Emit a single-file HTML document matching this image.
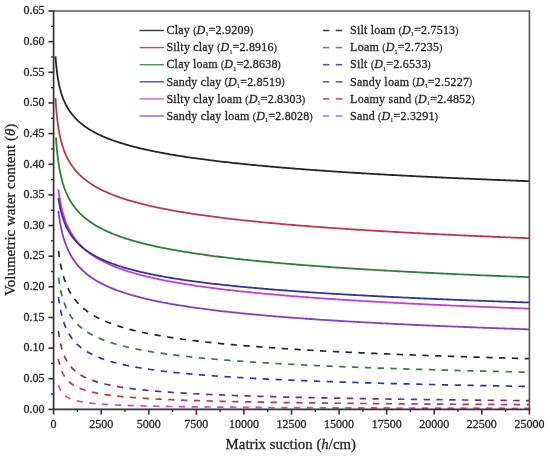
<!DOCTYPE html><html><head><meta charset="utf-8"><title>Soil water retention curves</title><style>html,body{margin:0;padding:0;background:#fff;width:550px;height:456px;overflow:hidden;}svg{display:block;}text{font-family:"Liberation Serif",serif;fill:#262626;stroke:#262626;stroke-width:0.28px;}</style></head><body>
<svg width="550" height="456" viewBox="0 0 550 456">
<g fill="none" stroke-linejoin="round">
<path d="M55.50,56.24 L55.55,56.98 L55.61,57.73 L55.66,58.48 L55.72,59.22 L55.78,59.96 L55.84,60.70 L55.90,61.44 L55.96,62.18 L56.02,62.92 L56.09,63.65 L56.16,64.38 L56.23,65.11 L56.30,65.84 L56.37,66.57 L56.45,67.30 L56.52,68.02 L56.60,68.75 L56.68,69.47 L56.77,70.19 L56.85,70.91 L56.94,71.63 L57.03,72.34 L57.13,73.06 L57.22,73.77 L57.32,74.48 L57.42,75.19 L57.53,75.90 L57.63,76.61 L57.74,77.31 L57.86,78.02 L57.97,78.72 L58.09,79.42 L58.21,80.12 L58.34,80.82 L58.47,81.51 L58.60,82.21 L58.73,82.90 L58.87,83.59 L59.02,84.28 L59.16,84.97 L59.32,85.66 L59.47,86.35 L59.63,87.03 L59.80,87.71 L59.96,88.40 L60.14,89.08 L60.31,89.76 L60.50,90.43 L60.68,91.11 L60.88,91.78 L61.07,92.46 L61.28,93.13 L61.49,93.80 L61.70,94.47 L61.92,95.14 L62.15,95.80 L62.38,96.47 L62.62,97.13 L62.86,97.79 L63.12,98.45 L63.37,99.11 L63.64,99.77 L63.91,100.43 L64.19,101.08 L64.48,101.73 L64.78,102.39 L65.08,103.04 L65.39,103.69 L65.71,104.33 L66.04,104.98 L66.38,105.63 L66.73,106.27 L67.09,106.91 L67.45,107.55 L67.83,108.19 L68.22,108.83 L68.61,109.47 L69.02,110.10 L69.44,110.74 L69.87,111.37 L70.31,112.00 L70.77,112.63 L71.24,113.26 L71.72,113.89 L72.21,114.52 L72.71,115.14 L73.23,115.77 L73.77,116.39 L74.32,117.01 L74.88,117.63 L75.46,118.25 L76.05,118.86 L76.66,119.48 L77.29,120.09 L77.93,120.71 L78.59,121.32 L79.27,121.93 L79.97,122.54 L80.69,123.15 L81.42,123.75 L82.18,124.36 L82.96,124.96 L83.76,125.57 L84.58,126.17 L85.42,126.77 L86.28,127.37 L87.17,127.96 L88.09,128.56 L89.02,129.16 L89.99,129.75 L90.97,130.34 L91.99,130.93 L93.03,131.53 L94.11,132.11 L95.21,132.70 L96.34,133.29 L97.50,133.87 L98.69,134.46 L99.92,135.04 L101.18,135.62 L103.08,136.47 L104.99,137.28 L106.89,138.06 L108.79,138.82 L110.70,139.54 L112.60,140.24 L114.50,140.92 L116.41,141.57 L118.31,142.20 L120.21,142.81 L122.12,143.41 L124.02,143.98 L125.92,144.54 L127.82,145.08 L129.73,145.61 L131.63,146.13 L133.53,146.63 L135.44,147.12 L137.34,147.59 L139.24,148.06 L141.15,148.51 L143.05,148.96 L144.95,149.39 L146.86,149.81 L148.76,150.23 L150.66,150.63 L152.57,151.03 L154.47,151.42 L156.37,151.80 L158.28,152.17 L160.18,152.54 L162.08,152.90 L163.99,153.25 L165.89,153.60 L167.79,153.94 L169.70,154.27 L171.60,154.60 L173.50,154.92 L175.40,155.24 L177.31,155.55 L179.21,155.86 L181.11,156.16 L183.02,156.46 L184.92,156.75 L186.82,157.04 L188.73,157.32 L190.63,157.60 L192.53,157.87 L194.44,158.14 L196.34,158.41 L198.24,158.67 L200.15,158.93 L202.05,159.19 L203.95,159.44 L205.86,159.69 L207.76,159.93 L209.66,160.17 L211.57,160.41 L213.47,160.65 L215.37,160.88 L217.28,161.11 L219.18,161.34 L221.08,161.56 L222.98,161.78 L224.89,162.00 L226.79,162.22 L228.69,162.43 L230.60,162.64 L232.50,162.85 L234.40,163.06 L236.31,163.26 L238.21,163.46 L240.11,163.66 L242.02,163.86 L243.92,164.06 L245.82,164.25 L247.73,164.44 L249.63,164.63 L251.53,164.82 L253.44,165.00 L255.34,165.18 L257.24,165.37 L259.15,165.54 L261.05,165.72 L262.95,165.90 L264.86,166.07 L266.76,166.25 L268.66,166.42 L270.56,166.59 L272.47,166.75 L274.37,166.92 L276.27,167.08 L278.18,167.25 L280.08,167.41 L281.98,167.57 L283.89,167.73 L285.79,167.88 L287.69,168.04 L289.60,168.19 L291.50,168.35 L293.40,168.50 L295.31,168.65 L297.21,168.80 L299.11,168.95 L301.02,169.09 L302.92,169.24 L304.82,169.38 L306.73,169.53 L308.63,169.67 L310.53,169.81 L312.44,169.95 L314.34,170.09 L316.24,170.23 L318.14,170.36 L320.05,170.50 L321.95,170.63 L323.85,170.77 L325.76,170.90 L327.66,171.03 L329.56,171.16 L331.47,171.29 L333.37,171.42 L335.27,171.55 L337.18,171.67 L339.08,171.80 L340.98,171.92 L342.89,172.05 L344.79,172.17 L346.69,172.29 L348.60,172.42 L350.50,172.54 L352.40,172.66 L354.31,172.77 L356.21,172.89 L358.11,173.01 L360.02,173.13 L361.92,173.24 L363.82,173.36 L365.72,173.47 L367.63,173.58 L369.53,173.70 L371.43,173.81 L373.34,173.92 L375.24,174.03 L377.14,174.14 L379.05,174.25 L380.95,174.36 L382.85,174.47 L384.76,174.57 L386.66,174.68 L388.56,174.78 L390.47,174.89 L392.37,174.99 L394.27,175.10 L396.18,175.20 L398.08,175.30 L399.98,175.41 L401.89,175.51 L403.79,175.61 L405.69,175.71 L407.60,175.81 L409.50,175.91 L411.40,176.01 L413.30,176.10 L415.21,176.20 L417.11,176.30 L419.01,176.39 L420.92,176.49 L422.82,176.59 L424.72,176.68 L426.63,176.77 L428.53,176.87 L430.43,176.96 L432.34,177.05 L434.24,177.15 L436.14,177.24 L438.05,177.33 L439.95,177.42 L441.85,177.51 L443.76,177.60 L445.66,177.69 L447.56,177.78 L449.47,177.86 L451.37,177.95 L453.27,178.04 L455.18,178.13 L457.08,178.21 L458.98,178.30 L460.88,178.38 L462.79,178.47 L464.69,178.55 L466.59,178.64 L468.50,178.72 L470.40,178.81 L472.30,178.89 L474.21,178.97 L476.11,179.05 L478.01,179.14 L479.92,179.22 L481.82,179.30 L483.72,179.38 L485.63,179.46 L487.53,179.54 L489.43,179.62 L491.34,179.70 L493.24,179.78 L495.14,179.86 L497.05,179.93 L498.95,180.01 L500.85,180.09 L502.76,180.17 L504.66,180.24 L506.56,180.32 L508.46,180.40 L510.37,180.47 L512.27,180.55 L514.17,180.62 L516.08,180.70 L517.98,180.77 L519.88,180.84 L521.79,180.92 L523.69,180.99 L525.59,181.06 L527.50,181.14 L529.40,181.21" stroke="#262626" stroke-width="1.8"/>
<path d="M55.50,97.93 L55.55,98.84 L55.61,99.74 L55.66,100.64 L55.72,101.53 L55.78,102.43 L55.84,103.32 L55.90,104.21 L55.96,105.09 L56.02,105.98 L56.09,106.86 L56.16,107.74 L56.23,108.61 L56.30,109.49 L56.37,110.36 L56.45,111.22 L56.52,112.09 L56.60,112.95 L56.68,113.81 L56.77,114.67 L56.85,115.53 L56.94,116.38 L57.03,117.23 L57.13,118.08 L57.22,118.93 L57.32,119.77 L57.42,120.61 L57.53,121.45 L57.63,122.29 L57.74,123.12 L57.86,123.95 L57.97,124.78 L58.09,125.61 L58.21,126.43 L58.34,127.25 L58.47,128.07 L58.60,128.89 L58.73,129.70 L58.87,130.51 L59.02,131.32 L59.16,132.13 L59.32,132.94 L59.47,133.74 L59.63,134.54 L59.80,135.34 L59.96,136.13 L60.14,136.93 L60.31,137.72 L60.50,138.51 L60.68,139.29 L60.88,140.08 L61.07,140.86 L61.28,141.64 L61.49,142.42 L61.70,143.19 L61.92,143.96 L62.15,144.74 L62.38,145.50 L62.62,146.27 L62.86,147.03 L63.12,147.80 L63.37,148.56 L63.64,149.31 L63.91,150.07 L64.19,150.82 L64.48,151.57 L64.78,152.32 L65.08,153.07 L65.39,153.81 L65.71,154.55 L66.04,155.29 L66.38,156.03 L66.73,156.77 L67.09,157.50 L67.45,158.23 L67.83,158.96 L68.22,159.69 L68.61,160.41 L69.02,161.14 L69.44,161.86 L69.87,162.58 L70.31,163.29 L70.77,164.01 L71.24,164.72 L71.72,165.43 L72.21,166.14 L72.71,166.84 L73.23,167.55 L73.77,168.25 L74.32,168.95 L74.88,169.65 L75.46,170.34 L76.05,171.04 L76.66,171.73 L77.29,172.42 L77.93,173.11 L78.59,173.80 L79.27,174.48 L79.97,175.16 L80.69,175.84 L81.42,176.52 L82.18,177.20 L82.96,177.87 L83.76,178.54 L84.58,179.21 L85.42,179.88 L86.28,180.55 L87.17,181.21 L88.09,181.87 L89.02,182.53 L89.99,183.19 L90.97,183.85 L91.99,184.51 L93.03,185.16 L94.11,185.81 L95.21,186.46 L96.34,187.11 L97.50,187.75 L98.69,188.39 L99.92,189.04 L101.18,189.68 L103.08,190.61 L104.99,191.50 L106.89,192.36 L108.79,193.18 L110.70,193.98 L112.60,194.74 L114.50,195.48 L116.41,196.19 L118.31,196.88 L120.21,197.55 L122.12,198.19 L124.02,198.82 L125.92,199.43 L127.82,200.02 L129.73,200.59 L131.63,201.15 L133.53,201.69 L135.44,202.22 L137.34,202.74 L139.24,203.24 L141.15,203.73 L143.05,204.21 L144.95,204.68 L146.86,205.13 L148.76,205.58 L150.66,206.02 L152.57,206.45 L154.47,206.86 L156.37,207.27 L158.28,207.68 L160.18,208.07 L162.08,208.46 L163.99,208.83 L165.89,209.20 L167.79,209.57 L169.70,209.93 L171.60,210.28 L173.50,210.62 L175.40,210.96 L177.31,211.30 L179.21,211.62 L181.11,211.95 L183.02,212.26 L184.92,212.57 L186.82,212.88 L188.73,213.18 L190.63,213.48 L192.53,213.77 L194.44,214.06 L196.34,214.35 L198.24,214.62 L200.15,214.90 L202.05,215.17 L203.95,215.44 L205.86,215.70 L207.76,215.97 L209.66,216.22 L211.57,216.48 L213.47,216.73 L215.37,216.97 L217.28,217.22 L219.18,217.46 L221.08,217.70 L222.98,217.93 L224.89,218.16 L226.79,218.39 L228.69,218.62 L230.60,218.84 L232.50,219.06 L234.40,219.28 L236.31,219.50 L238.21,219.71 L240.11,219.92 L242.02,220.13 L243.92,220.33 L245.82,220.54 L247.73,220.74 L249.63,220.94 L251.53,221.14 L253.44,221.33 L255.34,221.52 L257.24,221.72 L259.15,221.90 L261.05,222.09 L262.95,222.28 L264.86,222.46 L266.76,222.64 L268.66,222.82 L270.56,223.00 L272.47,223.18 L274.37,223.35 L276.27,223.52 L278.18,223.70 L280.08,223.87 L281.98,224.03 L283.89,224.20 L285.79,224.37 L287.69,224.53 L289.60,224.69 L291.50,224.85 L293.40,225.01 L295.31,225.17 L297.21,225.33 L299.11,225.48 L301.02,225.64 L302.92,225.79 L304.82,225.94 L306.73,226.09 L308.63,226.24 L310.53,226.39 L312.44,226.53 L314.34,226.68 L316.24,226.82 L318.14,226.96 L320.05,227.11 L321.95,227.25 L323.85,227.39 L325.76,227.52 L327.66,227.66 L329.56,227.80 L331.47,227.93 L333.37,228.07 L335.27,228.20 L337.18,228.33 L339.08,228.46 L340.98,228.59 L342.89,228.72 L344.79,228.85 L346.69,228.98 L348.60,229.11 L350.50,229.23 L352.40,229.36 L354.31,229.48 L356.21,229.60 L358.11,229.73 L360.02,229.85 L361.92,229.97 L363.82,230.09 L365.72,230.21 L367.63,230.32 L369.53,230.44 L371.43,230.56 L373.34,230.67 L375.24,230.79 L377.14,230.90 L379.05,231.02 L380.95,231.13 L382.85,231.24 L384.76,231.35 L386.66,231.46 L388.56,231.57 L390.47,231.68 L392.37,231.79 L394.27,231.90 L396.18,232.00 L398.08,232.11 L399.98,232.22 L401.89,232.32 L403.79,232.43 L405.69,232.53 L407.60,232.63 L409.50,232.74 L411.40,232.84 L413.30,232.94 L415.21,233.04 L417.11,233.14 L419.01,233.24 L420.92,233.34 L422.82,233.44 L424.72,233.54 L426.63,233.63 L428.53,233.73 L430.43,233.83 L432.34,233.92 L434.24,234.02 L436.14,234.11 L438.05,234.21 L439.95,234.30 L441.85,234.40 L443.76,234.49 L445.66,234.58 L447.56,234.67 L449.47,234.76 L451.37,234.85 L453.27,234.94 L455.18,235.03 L457.08,235.12 L458.98,235.21 L460.88,235.30 L462.79,235.39 L464.69,235.48 L466.59,235.56 L468.50,235.65 L470.40,235.74 L472.30,235.82 L474.21,235.91 L476.11,235.99 L478.01,236.08 L479.92,236.16 L481.82,236.24 L483.72,236.33 L485.63,236.41 L487.53,236.49 L489.43,236.57 L491.34,236.66 L493.24,236.74 L495.14,236.82 L497.05,236.90 L498.95,236.98 L500.85,237.06 L502.76,237.14 L504.66,237.22 L506.56,237.30 L508.46,237.37 L510.37,237.45 L512.27,237.53 L514.17,237.61 L516.08,237.68 L517.98,237.76 L519.88,237.84 L521.79,237.91 L523.69,237.99 L525.59,238.06 L527.50,238.14 L529.40,238.21" stroke="#c03848" stroke-width="1.8"/>
<path d="M55.98,137.35 L56.04,138.27 L56.10,139.19 L56.16,140.11 L56.23,141.02 L56.30,141.93 L56.36,142.84 L56.43,143.74 L56.50,144.65 L56.58,145.54 L56.65,146.44 L56.73,147.33 L56.81,148.22 L56.89,149.11 L56.97,149.99 L57.06,150.87 L57.15,151.75 L57.24,152.62 L57.33,153.50 L57.42,154.37 L57.52,155.23 L57.62,156.09 L57.72,156.95 L57.82,157.81 L57.93,158.66 L58.04,159.52 L58.15,160.36 L58.27,161.21 L58.39,162.05 L58.51,162.89 L58.63,163.73 L58.76,164.56 L58.89,165.39 L59.02,166.22 L59.16,167.05 L59.30,167.87 L59.44,168.69 L59.59,169.51 L59.74,170.32 L59.90,171.13 L60.06,171.94 L60.22,172.75 L60.39,173.55 L60.56,174.35 L60.74,175.15 L60.92,175.94 L61.10,176.74 L61.29,177.53 L61.49,178.31 L61.68,179.10 L61.89,179.88 L62.10,180.66 L62.31,181.43 L62.53,182.21 L62.76,182.98 L62.99,183.75 L63.23,184.51 L63.47,185.28 L63.72,186.04 L63.98,186.80 L64.24,187.55 L64.51,188.30 L64.78,189.06 L65.07,189.80 L65.36,190.55 L65.65,191.29 L65.96,192.03 L66.27,192.77 L66.59,193.50 L66.92,194.24 L67.26,194.97 L67.60,195.70 L67.96,196.42 L68.32,197.14 L68.69,197.86 L69.07,198.58 L69.46,199.30 L69.86,200.01 L70.27,200.72 L70.70,201.43 L71.13,202.14 L71.57,202.84 L72.03,203.54 L72.49,204.24 L72.97,204.94 L73.46,205.63 L73.96,206.32 L74.48,207.01 L75.00,207.70 L75.54,208.38 L76.10,209.07 L76.67,209.75 L77.25,210.42 L77.85,211.10 L78.46,211.77 L79.09,212.44 L79.73,213.11 L80.40,213.78 L81.07,214.44 L81.77,215.10 L82.48,215.76 L83.21,216.42 L83.96,217.07 L84.73,217.73 L85.51,218.38 L86.32,219.03 L87.15,219.67 L87.99,220.32 L88.86,220.96 L89.75,221.60 L90.67,222.24 L91.61,222.87 L92.57,223.50 L93.55,224.14 L94.56,224.76 L95.60,225.39 L96.66,226.02 L97.75,226.64 L98.86,227.26 L100.01,227.88 L101.18,228.49 L103.08,229.46 L104.99,230.38 L106.89,231.26 L108.79,232.11 L110.70,232.93 L112.60,233.72 L114.50,234.47 L116.41,235.21 L118.31,235.91 L120.21,236.60 L122.12,237.26 L124.02,237.90 L125.92,238.52 L127.82,239.12 L129.73,239.71 L131.63,240.28 L133.53,240.83 L135.44,241.37 L137.34,241.90 L139.24,242.41 L141.15,242.91 L143.05,243.40 L144.95,243.87 L146.86,244.34 L148.76,244.79 L150.66,245.23 L152.57,245.67 L154.47,246.09 L156.37,246.51 L158.28,246.91 L160.18,247.31 L162.08,247.70 L163.99,248.08 L165.89,248.46 L167.79,248.83 L169.70,249.19 L171.60,249.54 L173.50,249.89 L175.40,250.23 L177.31,250.57 L179.21,250.90 L181.11,251.22 L183.02,251.54 L184.92,251.86 L186.82,252.16 L188.73,252.47 L190.63,252.77 L192.53,253.06 L194.44,253.35 L196.34,253.63 L198.24,253.91 L200.15,254.19 L202.05,254.46 L203.95,254.73 L205.86,255.00 L207.76,255.26 L209.66,255.52 L211.57,255.77 L213.47,256.02 L215.37,256.27 L217.28,256.51 L219.18,256.75 L221.08,256.99 L222.98,257.22 L224.89,257.45 L226.79,257.68 L228.69,257.91 L230.60,258.13 L232.50,258.35 L234.40,258.57 L236.31,258.78 L238.21,259.00 L240.11,259.21 L242.02,259.41 L243.92,259.62 L245.82,259.82 L247.73,260.02 L249.63,260.22 L251.53,260.42 L253.44,260.61 L255.34,260.80 L257.24,260.99 L259.15,261.18 L261.05,261.37 L262.95,261.55 L264.86,261.73 L266.76,261.91 L268.66,262.09 L270.56,262.27 L272.47,262.44 L274.37,262.62 L276.27,262.79 L278.18,262.96 L280.08,263.13 L281.98,263.29 L283.89,263.46 L285.79,263.62 L287.69,263.78 L289.60,263.94 L291.50,264.10 L293.40,264.26 L295.31,264.42 L297.21,264.57 L299.11,264.73 L301.02,264.88 L302.92,265.03 L304.82,265.18 L306.73,265.33 L308.63,265.47 L310.53,265.62 L312.44,265.76 L314.34,265.91 L316.24,266.05 L318.14,266.19 L320.05,266.33 L321.95,266.47 L323.85,266.60 L325.76,266.74 L327.66,266.88 L329.56,267.01 L331.47,267.14 L333.37,267.28 L335.27,267.41 L337.18,267.54 L339.08,267.67 L340.98,267.79 L342.89,267.92 L344.79,268.05 L346.69,268.17 L348.60,268.30 L350.50,268.42 L352.40,268.54 L354.31,268.67 L356.21,268.79 L358.11,268.91 L360.02,269.03 L361.92,269.14 L363.82,269.26 L365.72,269.38 L367.63,269.49 L369.53,269.61 L371.43,269.72 L373.34,269.84 L375.24,269.95 L377.14,270.06 L379.05,270.17 L380.95,270.28 L382.85,270.39 L384.76,270.50 L386.66,270.61 L388.56,270.72 L390.47,270.83 L392.37,270.93 L394.27,271.04 L396.18,271.14 L398.08,271.25 L399.98,271.35 L401.89,271.45 L403.79,271.56 L405.69,271.66 L407.60,271.76 L409.50,271.86 L411.40,271.96 L413.30,272.06 L415.21,272.16 L417.11,272.26 L419.01,272.35 L420.92,272.45 L422.82,272.55 L424.72,272.64 L426.63,272.74 L428.53,272.83 L430.43,272.93 L432.34,273.02 L434.24,273.11 L436.14,273.21 L438.05,273.30 L439.95,273.39 L441.85,273.48 L443.76,273.57 L445.66,273.66 L447.56,273.75 L449.47,273.84 L451.37,273.93 L453.27,274.02 L455.18,274.10 L457.08,274.19 L458.98,274.28 L460.88,274.36 L462.79,274.45 L464.69,274.53 L466.59,274.62 L468.50,274.70 L470.40,274.79 L472.30,274.87 L474.21,274.95 L476.11,275.04 L478.01,275.12 L479.92,275.20 L481.82,275.28 L483.72,275.36 L485.63,275.44 L487.53,275.52 L489.43,275.60 L491.34,275.68 L493.24,275.76 L495.14,275.84 L497.05,275.92 L498.95,276.00 L500.85,276.07 L502.76,276.15 L504.66,276.23 L506.56,276.30 L508.46,276.38 L510.37,276.46 L512.27,276.53 L514.17,276.61 L516.08,276.68 L517.98,276.75 L519.88,276.83 L521.79,276.90 L523.69,276.97 L525.59,277.05 L527.50,277.12 L529.40,277.19" stroke="#2e7f3c" stroke-width="1.8"/>
<path d="M58.36,189.26 L58.45,189.97 L58.54,190.68 L58.64,191.40 L58.74,192.10 L58.84,192.81 L58.94,193.51 L59.04,194.22 L59.15,194.92 L59.25,195.61 L59.36,196.31 L59.48,197.00 L59.59,197.69 L59.71,198.38 L59.82,199.07 L59.94,199.75 L60.07,200.43 L60.19,201.11 L60.32,201.79 L60.45,202.46 L60.58,203.14 L60.72,203.81 L60.86,204.47 L61.00,205.14 L61.14,205.80 L61.29,206.47 L61.44,207.13 L61.59,207.78 L61.74,208.44 L61.90,209.09 L62.06,209.74 L62.22,210.39 L62.39,211.04 L62.56,211.68 L62.74,212.33 L62.91,212.97 L63.09,213.61 L63.28,214.24 L63.46,214.88 L63.66,215.51 L63.85,216.14 L64.05,216.77 L64.25,217.39 L64.46,218.02 L64.67,218.64 L64.88,219.26 L65.10,219.88 L65.32,220.50 L65.55,221.11 L65.78,221.72 L66.02,222.33 L66.26,222.94 L66.50,223.55 L66.76,224.15 L67.01,224.75 L67.27,225.35 L67.53,225.95 L67.80,226.55 L68.08,227.14 L68.36,227.73 L68.65,228.33 L68.94,228.91 L69.23,229.50 L69.54,230.09 L69.85,230.67 L70.16,231.25 L70.48,231.83 L70.81,232.41 L71.14,232.98 L71.48,233.55 L71.83,234.13 L72.18,234.70 L72.54,235.26 L72.91,235.83 L73.28,236.39 L73.66,236.96 L74.05,237.52 L74.45,238.08 L74.85,238.63 L75.26,239.19 L75.68,239.74 L76.11,240.29 L76.55,240.84 L76.99,241.39 L77.45,241.94 L77.91,242.48 L78.38,243.02 L78.86,243.57 L79.35,244.10 L79.85,244.64 L80.36,245.18 L80.87,245.71 L81.40,246.24 L81.94,246.77 L82.49,247.30 L83.05,247.83 L83.62,248.35 L84.20,248.88 L84.80,249.40 L85.40,249.92 L86.02,250.44 L86.64,250.96 L87.28,251.47 L87.94,251.98 L88.60,252.50 L89.28,253.01 L89.97,253.51 L90.68,254.02 L91.39,254.53 L92.13,255.03 L92.87,255.53 L93.63,256.03 L94.41,256.53 L95.20,257.03 L96.01,257.52 L96.83,258.02 L97.66,258.51 L98.52,259.00 L99.39,259.49 L100.28,259.98 L101.18,260.46 L103.08,261.45 L104.99,262.39 L106.89,263.30 L108.79,264.17 L110.70,265.00 L112.60,265.80 L114.50,266.57 L116.41,267.32 L118.31,268.03 L120.21,268.73 L122.12,269.40 L124.02,270.05 L125.92,270.68 L127.82,271.29 L129.73,271.88 L131.63,272.45 L133.53,273.01 L135.44,273.56 L137.34,274.09 L139.24,274.60 L141.15,275.10 L143.05,275.59 L144.95,276.07 L146.86,276.53 L148.76,276.99 L150.66,277.43 L152.57,277.87 L154.47,278.29 L156.37,278.71 L158.28,279.11 L160.18,279.51 L162.08,279.90 L163.99,280.28 L165.89,280.66 L167.79,281.02 L169.70,281.38 L171.60,281.74 L173.50,282.08 L175.40,282.42 L177.31,282.76 L179.21,283.08 L181.11,283.40 L183.02,283.72 L184.92,284.03 L186.82,284.34 L188.73,284.64 L190.63,284.93 L192.53,285.23 L194.44,285.51 L196.34,285.79 L198.24,286.07 L200.15,286.34 L202.05,286.61 L203.95,286.88 L205.86,287.14 L207.76,287.40 L209.66,287.65 L211.57,287.90 L213.47,288.15 L215.37,288.39 L217.28,288.63 L219.18,288.87 L221.08,289.10 L222.98,289.33 L224.89,289.56 L226.79,289.78 L228.69,290.01 L230.60,290.22 L232.50,290.44 L234.40,290.65 L236.31,290.86 L238.21,291.07 L240.11,291.28 L242.02,291.48 L243.92,291.68 L245.82,291.88 L247.73,292.08 L249.63,292.27 L251.53,292.46 L253.44,292.65 L255.34,292.84 L257.24,293.03 L259.15,293.21 L261.05,293.39 L262.95,293.57 L264.86,293.75 L266.76,293.93 L268.66,294.10 L270.56,294.27 L272.47,294.44 L274.37,294.61 L276.27,294.78 L278.18,294.94 L280.08,295.11 L281.98,295.27 L283.89,295.43 L285.79,295.59 L287.69,295.75 L289.60,295.90 L291.50,296.06 L293.40,296.21 L295.31,296.36 L297.21,296.51 L299.11,296.66 L301.02,296.81 L302.92,296.96 L304.82,297.10 L306.73,297.24 L308.63,297.39 L310.53,297.53 L312.44,297.67 L314.34,297.81 L316.24,297.94 L318.14,298.08 L320.05,298.22 L321.95,298.35 L323.85,298.48 L325.76,298.62 L327.66,298.75 L329.56,298.88 L331.47,299.01 L333.37,299.13 L335.27,299.26 L337.18,299.39 L339.08,299.51 L340.98,299.63 L342.89,299.76 L344.79,299.88 L346.69,300.00 L348.60,300.12 L350.50,300.24 L352.40,300.36 L354.31,300.48 L356.21,300.59 L358.11,300.71 L360.02,300.82 L361.92,300.94 L363.82,301.05 L365.72,301.16 L367.63,301.27 L369.53,301.38 L371.43,301.49 L373.34,301.60 L375.24,301.71 L377.14,301.82 L379.05,301.93 L380.95,302.03 L382.85,302.14 L384.76,302.24 L386.66,302.35 L388.56,302.45 L390.47,302.55 L392.37,302.66 L394.27,302.76 L396.18,302.86 L398.08,302.96 L399.98,303.06 L401.89,303.16 L403.79,303.26 L405.69,303.35 L407.60,303.45 L409.50,303.55 L411.40,303.64 L413.30,303.74 L415.21,303.83 L417.11,303.93 L419.01,304.02 L420.92,304.11 L422.82,304.20 L424.72,304.30 L426.63,304.39 L428.53,304.48 L430.43,304.57 L432.34,304.66 L434.24,304.75 L436.14,304.84 L438.05,304.92 L439.95,305.01 L441.85,305.10 L443.76,305.18 L445.66,305.27 L447.56,305.36 L449.47,305.44 L451.37,305.53 L453.27,305.61 L455.18,305.69 L457.08,305.78 L458.98,305.86 L460.88,305.94 L462.79,306.02 L464.69,306.10 L466.59,306.19 L468.50,306.27 L470.40,306.35 L472.30,306.43 L474.21,306.50 L476.11,306.58 L478.01,306.66 L479.92,306.74 L481.82,306.82 L483.72,306.89 L485.63,306.97 L487.53,307.05 L489.43,307.12 L491.34,307.20 L493.24,307.27 L495.14,307.35 L497.05,307.42 L498.95,307.50 L500.85,307.57 L502.76,307.65 L504.66,307.72 L506.56,307.79 L508.46,307.86 L510.37,307.93 L512.27,308.01 L514.17,308.08 L516.08,308.15 L517.98,308.22 L519.88,308.29 L521.79,308.36 L523.69,308.43 L525.59,308.50 L527.50,308.57 L529.40,308.64" stroke="#c840c8" stroke-width="1.8"/>
<path d="M58.36,197.98 L58.45,198.58 L58.54,199.18 L58.64,199.77 L58.74,200.37 L58.84,200.96 L58.94,201.55 L59.04,202.14 L59.15,202.73 L59.25,203.32 L59.36,203.90 L59.48,204.48 L59.59,205.07 L59.71,205.64 L59.82,206.22 L59.94,206.80 L60.07,207.37 L60.19,207.95 L60.32,208.52 L60.45,209.09 L60.58,209.66 L60.72,210.22 L60.86,210.79 L61.00,211.35 L61.14,211.92 L61.29,212.48 L61.44,213.03 L61.59,213.59 L61.74,214.15 L61.90,214.70 L62.06,215.25 L62.22,215.81 L62.39,216.35 L62.56,216.90 L62.74,217.45 L62.91,217.99 L63.09,218.54 L63.28,219.08 L63.46,219.62 L63.66,220.16 L63.85,220.69 L64.05,221.23 L64.25,221.76 L64.46,222.30 L64.67,222.83 L64.88,223.36 L65.10,223.88 L65.32,224.41 L65.55,224.94 L65.78,225.46 L66.02,225.98 L66.26,226.50 L66.50,227.02 L66.76,227.54 L67.01,228.05 L67.27,228.57 L67.53,229.08 L67.80,229.59 L68.08,230.10 L68.36,230.61 L68.65,231.12 L68.94,231.63 L69.23,232.13 L69.54,232.63 L69.85,233.14 L70.16,233.64 L70.48,234.13 L70.81,234.63 L71.14,235.13 L71.48,235.62 L71.83,236.12 L72.18,236.61 L72.54,237.10 L72.91,237.59 L73.28,238.07 L73.66,238.56 L74.05,239.04 L74.45,239.53 L74.85,240.01 L75.26,240.49 L75.68,240.97 L76.11,241.45 L76.55,241.92 L76.99,242.40 L77.45,242.87 L77.91,243.35 L78.38,243.82 L78.86,244.29 L79.35,244.76 L79.85,245.22 L80.36,245.69 L80.87,246.15 L81.40,246.62 L81.94,247.08 L82.49,247.54 L83.05,248.00 L83.62,248.46 L84.20,248.91 L84.80,249.37 L85.40,249.82 L86.02,250.28 L86.64,250.73 L87.28,251.18 L87.94,251.63 L88.60,252.07 L89.28,252.52 L89.97,252.97 L90.68,253.41 L91.39,253.85 L92.13,254.29 L92.87,254.73 L93.63,255.17 L94.41,255.61 L95.20,256.05 L96.01,256.48 L96.83,256.92 L97.66,257.35 L98.52,257.78 L99.39,258.21 L100.28,258.64 L101.18,259.07 L103.08,259.94 L104.99,260.77 L106.89,261.57 L108.79,262.34 L110.70,263.07 L112.60,263.78 L114.50,264.46 L116.41,265.12 L118.31,265.76 L120.21,266.38 L122.12,266.97 L124.02,267.55 L125.92,268.11 L127.82,268.65 L129.73,269.18 L131.63,269.69 L133.53,270.19 L135.44,270.67 L137.34,271.14 L139.24,271.60 L141.15,272.05 L143.05,272.49 L144.95,272.91 L146.86,273.33 L148.76,273.73 L150.66,274.13 L152.57,274.52 L154.47,274.90 L156.37,275.27 L158.28,275.64 L160.18,275.99 L162.08,276.34 L163.99,276.68 L165.89,277.02 L167.79,277.35 L169.70,277.67 L171.60,277.99 L173.50,278.30 L175.40,278.60 L177.31,278.90 L179.21,279.20 L181.11,279.49 L183.02,279.77 L184.92,280.05 L186.82,280.33 L188.73,280.60 L190.63,280.87 L192.53,281.13 L194.44,281.39 L196.34,281.64 L198.24,281.89 L200.15,282.14 L202.05,282.38 L203.95,282.62 L205.86,282.86 L207.76,283.09 L209.66,283.32 L211.57,283.54 L213.47,283.77 L215.37,283.99 L217.28,284.20 L219.18,284.42 L221.08,284.63 L222.98,284.84 L224.89,285.04 L226.79,285.25 L228.69,285.45 L230.60,285.65 L232.50,285.84 L234.40,286.04 L236.31,286.23 L238.21,286.42 L240.11,286.60 L242.02,286.79 L243.92,286.97 L245.82,287.15 L247.73,287.33 L249.63,287.50 L251.53,287.68 L253.44,287.85 L255.34,288.02 L257.24,288.19 L259.15,288.36 L261.05,288.52 L262.95,288.69 L264.86,288.85 L266.76,289.01 L268.66,289.17 L270.56,289.32 L272.47,289.48 L274.37,289.63 L276.27,289.78 L278.18,289.93 L280.08,290.08 L281.98,290.23 L283.89,290.38 L285.79,290.52 L287.69,290.67 L289.60,290.81 L291.50,290.95 L293.40,291.09 L295.31,291.23 L297.21,291.37 L299.11,291.50 L301.02,291.64 L302.92,291.77 L304.82,291.90 L306.73,292.03 L308.63,292.16 L310.53,292.29 L312.44,292.42 L314.34,292.55 L316.24,292.67 L318.14,292.80 L320.05,292.92 L321.95,293.04 L323.85,293.17 L325.76,293.29 L327.66,293.41 L329.56,293.53 L331.47,293.64 L333.37,293.76 L335.27,293.88 L337.18,293.99 L339.08,294.11 L340.98,294.22 L342.89,294.33 L344.79,294.44 L346.69,294.55 L348.60,294.66 L350.50,294.77 L352.40,294.88 L354.31,294.99 L356.21,295.10 L358.11,295.20 L360.02,295.31 L361.92,295.41 L363.82,295.52 L365.72,295.62 L367.63,295.72 L369.53,295.82 L371.43,295.92 L373.34,296.02 L375.24,296.12 L377.14,296.22 L379.05,296.32 L380.95,296.42 L382.85,296.52 L384.76,296.61 L386.66,296.71 L388.56,296.80 L390.47,296.90 L392.37,296.99 L394.27,297.08 L396.18,297.18 L398.08,297.27 L399.98,297.36 L401.89,297.45 L403.79,297.54 L405.69,297.63 L407.60,297.72 L409.50,297.81 L411.40,297.90 L413.30,297.99 L415.21,298.07 L417.11,298.16 L419.01,298.24 L420.92,298.33 L422.82,298.42 L424.72,298.50 L426.63,298.58 L428.53,298.67 L430.43,298.75 L432.34,298.83 L434.24,298.91 L436.14,299.00 L438.05,299.08 L439.95,299.16 L441.85,299.24 L443.76,299.32 L445.66,299.40 L447.56,299.48 L449.47,299.55 L451.37,299.63 L453.27,299.71 L455.18,299.79 L457.08,299.86 L458.98,299.94 L460.88,300.02 L462.79,300.09 L464.69,300.17 L466.59,300.24 L468.50,300.32 L470.40,300.39 L472.30,300.46 L474.21,300.54 L476.11,300.61 L478.01,300.68 L479.92,300.75 L481.82,300.83 L483.72,300.90 L485.63,300.97 L487.53,301.04 L489.43,301.11 L491.34,301.18 L493.24,301.25 L495.14,301.32 L497.05,301.39 L498.95,301.45 L500.85,301.52 L502.76,301.59 L504.66,301.66 L506.56,301.72 L508.46,301.79 L510.37,301.86 L512.27,301.92 L514.17,301.99 L516.08,302.06 L517.98,302.12 L519.88,302.19 L521.79,302.25 L523.69,302.31 L525.59,302.38 L527.50,302.44 L529.40,302.51" stroke="#3232a8" stroke-width="1.8"/>
<path d="M58.36,210.91 L58.45,211.65 L58.54,212.40 L58.64,213.15 L58.74,213.89 L58.84,214.63 L58.94,215.36 L59.04,216.09 L59.15,216.82 L59.25,217.55 L59.36,218.28 L59.48,219.00 L59.59,219.72 L59.71,220.43 L59.82,221.15 L59.94,221.86 L60.07,222.57 L60.19,223.27 L60.32,223.97 L60.45,224.67 L60.58,225.37 L60.72,226.07 L60.86,226.76 L61.00,227.45 L61.14,228.14 L61.29,228.82 L61.44,229.50 L61.59,230.18 L61.74,230.86 L61.90,231.53 L62.06,232.21 L62.22,232.88 L62.39,233.54 L62.56,234.21 L62.74,234.87 L62.91,235.53 L63.09,236.18 L63.28,236.84 L63.46,237.49 L63.66,238.14 L63.85,238.79 L64.05,239.43 L64.25,240.07 L64.46,240.71 L64.67,241.35 L64.88,241.98 L65.10,242.62 L65.32,243.25 L65.55,243.87 L65.78,244.50 L66.02,245.12 L66.26,245.74 L66.50,246.36 L66.76,246.98 L67.01,247.59 L67.27,248.20 L67.53,248.81 L67.80,249.42 L68.08,250.02 L68.36,250.62 L68.65,251.22 L68.94,251.82 L69.23,252.41 L69.54,253.01 L69.85,253.60 L70.16,254.19 L70.48,254.77 L70.81,255.36 L71.14,255.94 L71.48,256.52 L71.83,257.09 L72.18,257.67 L72.54,258.24 L72.91,258.81 L73.28,259.38 L73.66,259.95 L74.05,260.51 L74.45,261.08 L74.85,261.64 L75.26,262.19 L75.68,262.75 L76.11,263.30 L76.55,263.86 L76.99,264.41 L77.45,264.95 L77.91,265.50 L78.38,266.04 L78.86,266.58 L79.35,267.12 L79.85,267.66 L80.36,268.20 L80.87,268.73 L81.40,269.26 L81.94,269.79 L82.49,270.32 L83.05,270.84 L83.62,271.37 L84.20,271.89 L84.80,272.41 L85.40,272.92 L86.02,273.44 L86.64,273.95 L87.28,274.46 L87.94,274.97 L88.60,275.48 L89.28,275.99 L89.97,276.49 L90.68,276.99 L91.39,277.49 L92.13,277.99 L92.87,278.49 L93.63,278.98 L94.41,279.47 L95.20,279.96 L96.01,280.45 L96.83,280.94 L97.66,281.43 L98.52,281.91 L99.39,282.39 L100.28,282.87 L101.18,283.35 L103.08,284.32 L104.99,285.25 L106.89,286.13 L108.79,286.98 L110.70,287.80 L112.60,288.58 L114.50,289.34 L116.41,290.06 L118.31,290.76 L120.21,291.44 L122.12,292.09 L124.02,292.73 L125.92,293.34 L127.82,293.93 L129.73,294.51 L131.63,295.06 L133.53,295.61 L135.44,296.13 L137.34,296.65 L139.24,297.14 L141.15,297.63 L143.05,298.10 L144.95,298.56 L146.86,299.01 L148.76,299.45 L150.66,299.88 L152.57,300.30 L154.47,300.71 L156.37,301.11 L158.28,301.50 L160.18,301.88 L162.08,302.26 L163.99,302.62 L165.89,302.98 L167.79,303.34 L169.70,303.68 L171.60,304.02 L173.50,304.35 L175.40,304.68 L177.31,305.00 L179.21,305.31 L181.11,305.62 L183.02,305.92 L184.92,306.22 L186.82,306.51 L188.73,306.80 L190.63,307.08 L192.53,307.36 L194.44,307.63 L196.34,307.90 L198.24,308.17 L200.15,308.43 L202.05,308.68 L203.95,308.94 L205.86,309.18 L207.76,309.43 L209.66,309.67 L211.57,309.91 L213.47,310.14 L215.37,310.38 L217.28,310.60 L219.18,310.83 L221.08,311.05 L222.98,311.27 L224.89,311.49 L226.79,311.70 L228.69,311.91 L230.60,312.12 L232.50,312.32 L234.40,312.52 L236.31,312.72 L238.21,312.92 L240.11,313.12 L242.02,313.31 L243.92,313.50 L245.82,313.69 L247.73,313.87 L249.63,314.06 L251.53,314.24 L253.44,314.42 L255.34,314.59 L257.24,314.77 L259.15,314.94 L261.05,315.12 L262.95,315.28 L264.86,315.45 L266.76,315.62 L268.66,315.78 L270.56,315.95 L272.47,316.11 L274.37,316.27 L276.27,316.42 L278.18,316.58 L280.08,316.73 L281.98,316.89 L283.89,317.04 L285.79,317.19 L287.69,317.34 L289.60,317.48 L291.50,317.63 L293.40,317.77 L295.31,317.91 L297.21,318.06 L299.11,318.20 L301.02,318.33 L302.92,318.47 L304.82,318.61 L306.73,318.74 L308.63,318.88 L310.53,319.01 L312.44,319.14 L314.34,319.27 L316.24,319.40 L318.14,319.53 L320.05,319.66 L321.95,319.78 L323.85,319.91 L325.76,320.03 L327.66,320.15 L329.56,320.27 L331.47,320.40 L333.37,320.52 L335.27,320.63 L337.18,320.75 L339.08,320.87 L340.98,320.98 L342.89,321.10 L344.79,321.21 L346.69,321.33 L348.60,321.44 L350.50,321.55 L352.40,321.66 L354.31,321.77 L356.21,321.88 L358.11,321.99 L360.02,322.10 L361.92,322.20 L363.82,322.31 L365.72,322.41 L367.63,322.52 L369.53,322.62 L371.43,322.72 L373.34,322.83 L375.24,322.93 L377.14,323.03 L379.05,323.13 L380.95,323.23 L382.85,323.32 L384.76,323.42 L386.66,323.52 L388.56,323.62 L390.47,323.71 L392.37,323.81 L394.27,323.90 L396.18,324.00 L398.08,324.09 L399.98,324.18 L401.89,324.27 L403.79,324.36 L405.69,324.46 L407.60,324.55 L409.50,324.64 L411.40,324.72 L413.30,324.81 L415.21,324.90 L417.11,324.99 L419.01,325.08 L420.92,325.16 L422.82,325.25 L424.72,325.33 L426.63,325.42 L428.53,325.50 L430.43,325.59 L432.34,325.67 L434.24,325.75 L436.14,325.83 L438.05,325.92 L439.95,326.00 L441.85,326.08 L443.76,326.16 L445.66,326.24 L447.56,326.32 L449.47,326.40 L451.37,326.47 L453.27,326.55 L455.18,326.63 L457.08,326.71 L458.98,326.78 L460.88,326.86 L462.79,326.94 L464.69,327.01 L466.59,327.09 L468.50,327.16 L470.40,327.23 L472.30,327.31 L474.21,327.38 L476.11,327.46 L478.01,327.53 L479.92,327.60 L481.82,327.67 L483.72,327.74 L485.63,327.81 L487.53,327.88 L489.43,327.96 L491.34,328.03 L493.24,328.09 L495.14,328.16 L497.05,328.23 L498.95,328.30 L500.85,328.37 L502.76,328.44 L504.66,328.50 L506.56,328.57 L508.46,328.64 L510.37,328.71 L512.27,328.77 L514.17,328.84 L516.08,328.90 L517.98,328.97 L519.88,329.03 L521.79,329.10 L523.69,329.16 L525.59,329.23 L527.50,329.29 L529.40,329.35" stroke="#8040c8" stroke-width="1.8"/>
<path d="M58.36,249.87 L58.45,250.63 L58.54,251.39 L58.64,252.14 L58.74,252.89 L58.84,253.63 L58.94,254.38 L59.04,255.11 L59.15,255.85 L59.25,256.58 L59.36,257.31 L59.48,258.03 L59.59,258.75 L59.71,259.47 L59.82,260.18 L59.94,260.89 L60.07,261.60 L60.19,262.30 L60.32,263.00 L60.45,263.70 L60.58,264.39 L60.72,265.08 L60.86,265.77 L61.00,266.46 L61.14,267.14 L61.29,267.81 L61.44,268.49 L61.59,269.16 L61.74,269.83 L61.90,270.49 L62.06,271.15 L62.22,271.81 L62.39,272.46 L62.56,273.12 L62.74,273.77 L62.91,274.41 L63.09,275.05 L63.28,275.69 L63.46,276.33 L63.66,276.96 L63.85,277.59 L64.05,278.22 L64.25,278.85 L64.46,279.47 L64.67,280.09 L64.88,280.70 L65.10,281.31 L65.32,281.92 L65.55,282.53 L65.78,283.13 L66.02,283.74 L66.26,284.33 L66.50,284.93 L66.76,285.52 L67.01,286.11 L67.27,286.70 L67.53,287.28 L67.80,287.86 L68.08,288.44 L68.36,289.02 L68.65,289.59 L68.94,290.16 L69.23,290.73 L69.54,291.29 L69.85,291.86 L70.16,292.42 L70.48,292.97 L70.81,293.53 L71.14,294.08 L71.48,294.63 L71.83,295.17 L72.18,295.72 L72.54,296.26 L72.91,296.80 L73.28,297.33 L73.66,297.87 L74.05,298.40 L74.45,298.93 L74.85,299.45 L75.26,299.98 L75.68,300.50 L76.11,301.02 L76.55,301.53 L76.99,302.05 L77.45,302.56 L77.91,303.07 L78.38,303.57 L78.86,304.08 L79.35,304.58 L79.85,305.08 L80.36,305.57 L80.87,306.07 L81.40,306.56 L81.94,307.05 L82.49,307.54 L83.05,308.02 L83.62,308.50 L84.20,308.98 L84.80,309.46 L85.40,309.94 L86.02,310.41 L86.64,310.88 L87.28,311.35 L87.94,311.82 L88.60,312.28 L89.28,312.75 L89.97,313.21 L90.68,313.66 L91.39,314.12 L92.13,314.57 L92.87,315.02 L93.63,315.47 L94.41,315.92 L95.20,316.37 L96.01,316.81 L96.83,317.25 L97.66,317.69 L98.52,318.12 L99.39,318.56 L100.28,318.99 L101.18,319.42 L103.08,320.30 L104.99,321.13 L106.89,321.92 L108.79,322.68 L110.70,323.41 L112.60,324.11 L114.50,324.78 L116.41,325.43 L118.31,326.05 L120.21,326.64 L122.12,327.22 L124.02,327.78 L125.92,328.32 L127.82,328.84 L129.73,329.35 L131.63,329.84 L133.53,330.31 L135.44,330.78 L137.34,331.22 L139.24,331.66 L141.15,332.08 L143.05,332.50 L144.95,332.90 L146.86,333.29 L148.76,333.67 L150.66,334.04 L152.57,334.40 L154.47,334.76 L156.37,335.11 L158.28,335.44 L160.18,335.77 L162.08,336.10 L163.99,336.41 L165.89,336.72 L167.79,337.03 L169.70,337.32 L171.60,337.61 L173.50,337.90 L175.40,338.18 L177.31,338.45 L179.21,338.72 L181.11,338.99 L183.02,339.24 L184.92,339.50 L186.82,339.75 L188.73,339.99 L190.63,340.24 L192.53,340.47 L194.44,340.70 L196.34,340.93 L198.24,341.16 L200.15,341.38 L202.05,341.60 L203.95,341.81 L205.86,342.02 L207.76,342.23 L209.66,342.44 L211.57,342.64 L213.47,342.84 L215.37,343.03 L217.28,343.22 L219.18,343.41 L221.08,343.60 L222.98,343.79 L224.89,343.97 L226.79,344.15 L228.69,344.33 L230.60,344.50 L232.50,344.67 L234.40,344.84 L236.31,345.01 L238.21,345.18 L240.11,345.34 L242.02,345.50 L243.92,345.66 L245.82,345.82 L247.73,345.97 L249.63,346.13 L251.53,346.28 L253.44,346.43 L255.34,346.58 L257.24,346.72 L259.15,346.87 L261.05,347.01 L262.95,347.15 L264.86,347.29 L266.76,347.43 L268.66,347.57 L270.56,347.70 L272.47,347.84 L274.37,347.97 L276.27,348.10 L278.18,348.23 L280.08,348.36 L281.98,348.49 L283.89,348.61 L285.79,348.74 L287.69,348.86 L289.60,348.98 L291.50,349.10 L293.40,349.22 L295.31,349.34 L297.21,349.46 L299.11,349.57 L301.02,349.69 L302.92,349.80 L304.82,349.91 L306.73,350.03 L308.63,350.14 L310.53,350.25 L312.44,350.35 L314.34,350.46 L316.24,350.57 L318.14,350.67 L320.05,350.78 L321.95,350.88 L323.85,350.98 L325.76,351.09 L327.66,351.19 L329.56,351.29 L331.47,351.39 L333.37,351.48 L335.27,351.58 L337.18,351.68 L339.08,351.78 L340.98,351.87 L342.89,351.96 L344.79,352.06 L346.69,352.15 L348.60,352.24 L350.50,352.33 L352.40,352.43 L354.31,352.51 L356.21,352.60 L358.11,352.69 L360.02,352.78 L361.92,352.87 L363.82,352.95 L365.72,353.04 L367.63,353.12 L369.53,353.21 L371.43,353.29 L373.34,353.38 L375.24,353.46 L377.14,353.54 L379.05,353.62 L380.95,353.70 L382.85,353.78 L384.76,353.86 L386.66,353.94 L388.56,354.02 L390.47,354.10 L392.37,354.18 L394.27,354.25 L396.18,354.33 L398.08,354.41 L399.98,354.48 L401.89,354.56 L403.79,354.63 L405.69,354.70 L407.60,354.78 L409.50,354.85 L411.40,354.92 L413.30,354.99 L415.21,355.07 L417.11,355.14 L419.01,355.21 L420.92,355.28 L422.82,355.35 L424.72,355.42 L426.63,355.48 L428.53,355.55 L430.43,355.62 L432.34,355.69 L434.24,355.75 L436.14,355.82 L438.05,355.89 L439.95,355.95 L441.85,356.02 L443.76,356.08 L445.66,356.15 L447.56,356.21 L449.47,356.27 L451.37,356.34 L453.27,356.40 L455.18,356.46 L457.08,356.53 L458.98,356.59 L460.88,356.65 L462.79,356.71 L464.69,356.77 L466.59,356.83 L468.50,356.89 L470.40,356.95 L472.30,357.01 L474.21,357.07 L476.11,357.13 L478.01,357.19 L479.92,357.24 L481.82,357.30 L483.72,357.36 L485.63,357.42 L487.53,357.47 L489.43,357.53 L491.34,357.59 L493.24,357.64 L495.14,357.70 L497.05,357.75 L498.95,357.81 L500.85,357.86 L502.76,357.92 L504.66,357.97 L506.56,358.03 L508.46,358.08 L510.37,358.13 L512.27,358.19 L514.17,358.24 L516.08,358.29 L517.98,358.34 L519.88,358.39 L521.79,358.45 L523.69,358.50 L525.59,358.55 L527.50,358.60 L529.40,358.65" stroke="#262626" stroke-width="1.7" stroke-dasharray="6.3 6.5" stroke-dashoffset="-1.1"/>
<path d="M58.36,276.48 L58.45,277.18 L58.54,277.88 L58.64,278.58 L58.74,279.27 L58.84,279.96 L58.94,280.64 L59.04,281.32 L59.15,282.00 L59.25,282.68 L59.36,283.35 L59.48,284.01 L59.59,284.68 L59.71,285.34 L59.82,285.99 L59.94,286.65 L60.07,287.30 L60.19,287.94 L60.32,288.59 L60.45,289.22 L60.58,289.86 L60.72,290.49 L60.86,291.12 L61.00,291.75 L61.14,292.37 L61.29,292.99 L61.44,293.61 L61.59,294.22 L61.74,294.83 L61.90,295.43 L62.06,296.04 L62.22,296.64 L62.39,297.23 L62.56,297.83 L62.74,298.42 L62.91,299.01 L63.09,299.59 L63.28,300.17 L63.46,300.75 L63.66,301.32 L63.85,301.90 L64.05,302.46 L64.25,303.03 L64.46,303.59 L64.67,304.15 L64.88,304.71 L65.10,305.26 L65.32,305.81 L65.55,306.36 L65.78,306.91 L66.02,307.45 L66.26,307.99 L66.50,308.53 L66.76,309.06 L67.01,309.59 L67.27,310.12 L67.53,310.64 L67.80,311.17 L68.08,311.69 L68.36,312.20 L68.65,312.72 L68.94,313.23 L69.23,313.74 L69.54,314.24 L69.85,314.75 L70.16,315.25 L70.48,315.75 L70.81,316.24 L71.14,316.74 L71.48,317.23 L71.83,317.71 L72.18,318.20 L72.54,318.68 L72.91,319.16 L73.28,319.64 L73.66,320.11 L74.05,320.59 L74.45,321.06 L74.85,321.52 L75.26,321.99 L75.68,322.45 L76.11,322.91 L76.55,323.37 L76.99,323.82 L77.45,324.28 L77.91,324.73 L78.38,325.18 L78.86,325.62 L79.35,326.06 L79.85,326.51 L80.36,326.94 L80.87,327.38 L81.40,327.81 L81.94,328.25 L82.49,328.68 L83.05,329.10 L83.62,329.53 L84.20,329.95 L84.80,330.37 L85.40,330.79 L86.02,331.21 L86.64,331.62 L87.28,332.03 L87.94,332.44 L88.60,332.85 L89.28,333.25 L89.97,333.66 L90.68,334.06 L91.39,334.45 L92.13,334.85 L92.87,335.25 L93.63,335.64 L94.41,336.03 L95.20,336.42 L96.01,336.80 L96.83,337.19 L97.66,337.57 L98.52,337.95 L99.39,338.33 L100.28,338.70 L101.18,339.08 L103.08,339.84 L104.99,340.56 L106.89,341.25 L108.79,341.90 L110.70,342.53 L112.60,343.14 L114.50,343.72 L116.41,344.27 L118.31,344.81 L120.21,345.32 L122.12,345.82 L124.02,346.30 L125.92,346.77 L127.82,347.21 L129.73,347.65 L131.63,348.07 L133.53,348.47 L135.44,348.87 L137.34,349.25 L139.24,349.63 L141.15,349.99 L143.05,350.34 L144.95,350.68 L146.86,351.02 L148.76,351.34 L150.66,351.66 L152.57,351.97 L154.47,352.27 L156.37,352.56 L158.28,352.85 L160.18,353.13 L162.08,353.41 L163.99,353.68 L165.89,353.94 L167.79,354.20 L169.70,354.45 L171.60,354.69 L173.50,354.94 L175.40,355.17 L177.31,355.40 L179.21,355.63 L181.11,355.86 L183.02,356.07 L184.92,356.29 L186.82,356.50 L188.73,356.71 L190.63,356.91 L192.53,357.11 L194.44,357.31 L196.34,357.50 L198.24,357.69 L200.15,357.88 L202.05,358.06 L203.95,358.24 L205.86,358.42 L207.76,358.59 L209.66,358.76 L211.57,358.93 L213.47,359.10 L215.37,359.27 L217.28,359.43 L219.18,359.59 L221.08,359.74 L222.98,359.90 L224.89,360.05 L226.79,360.20 L228.69,360.35 L230.60,360.50 L232.50,360.64 L234.40,360.78 L236.31,360.92 L238.21,361.06 L240.11,361.20 L242.02,361.33 L243.92,361.47 L245.82,361.60 L247.73,361.73 L249.63,361.86 L251.53,361.99 L253.44,362.11 L255.34,362.23 L257.24,362.36 L259.15,362.48 L261.05,362.60 L262.95,362.71 L264.86,362.83 L266.76,362.95 L268.66,363.06 L270.56,363.17 L272.47,363.29 L274.37,363.40 L276.27,363.50 L278.18,363.61 L280.08,363.72 L281.98,363.82 L283.89,363.93 L285.79,364.03 L287.69,364.13 L289.60,364.24 L291.50,364.34 L293.40,364.44 L295.31,364.53 L297.21,364.63 L299.11,364.73 L301.02,364.82 L302.92,364.92 L304.82,365.01 L306.73,365.10 L308.63,365.19 L310.53,365.28 L312.44,365.37 L314.34,365.46 L316.24,365.55 L318.14,365.64 L320.05,365.73 L321.95,365.81 L323.85,365.90 L325.76,365.98 L327.66,366.07 L329.56,366.15 L331.47,366.23 L333.37,366.31 L335.27,366.39 L337.18,366.47 L339.08,366.55 L340.98,366.63 L342.89,366.71 L344.79,366.79 L346.69,366.86 L348.60,366.94 L350.50,367.01 L352.40,367.09 L354.31,367.16 L356.21,367.24 L358.11,367.31 L360.02,367.38 L361.92,367.45 L363.82,367.52 L365.72,367.60 L367.63,367.67 L369.53,367.74 L371.43,367.80 L373.34,367.87 L375.24,367.94 L377.14,368.01 L379.05,368.08 L380.95,368.14 L382.85,368.21 L384.76,368.27 L386.66,368.34 L388.56,368.40 L390.47,368.47 L392.37,368.53 L394.27,368.60 L396.18,368.66 L398.08,368.72 L399.98,368.78 L401.89,368.84 L403.79,368.90 L405.69,368.97 L407.60,369.03 L409.50,369.09 L411.40,369.14 L413.30,369.20 L415.21,369.26 L417.11,369.32 L419.01,369.38 L420.92,369.44 L422.82,369.49 L424.72,369.55 L426.63,369.61 L428.53,369.66 L430.43,369.72 L432.34,369.77 L434.24,369.83 L436.14,369.88 L438.05,369.94 L439.95,369.99 L441.85,370.04 L443.76,370.10 L445.66,370.15 L447.56,370.20 L449.47,370.25 L451.37,370.31 L453.27,370.36 L455.18,370.41 L457.08,370.46 L458.98,370.51 L460.88,370.56 L462.79,370.61 L464.69,370.66 L466.59,370.71 L468.50,370.76 L470.40,370.81 L472.30,370.86 L474.21,370.91 L476.11,370.95 L478.01,371.00 L479.92,371.05 L481.82,371.10 L483.72,371.14 L485.63,371.19 L487.53,371.24 L489.43,371.28 L491.34,371.33 L493.24,371.37 L495.14,371.42 L497.05,371.46 L498.95,371.51 L500.85,371.55 L502.76,371.60 L504.66,371.64 L506.56,371.69 L508.46,371.73 L510.37,371.77 L512.27,371.82 L514.17,371.86 L516.08,371.90 L517.98,371.94 L519.88,371.99 L521.79,372.03 L523.69,372.07 L525.59,372.11 L527.50,372.15 L529.40,372.20" stroke="#2e7f3c" stroke-width="1.7" stroke-dasharray="6.3 6.5" stroke-dashoffset="-1.1"/>
<path d="M58.36,295.94 L58.45,296.69 L58.54,297.44 L58.64,298.18 L58.74,298.92 L58.84,299.65 L58.94,300.38 L59.04,301.10 L59.15,301.82 L59.25,302.54 L59.36,303.24 L59.48,303.95 L59.59,304.65 L59.71,305.34 L59.82,306.03 L59.94,306.72 L60.07,307.40 L60.19,308.07 L60.32,308.75 L60.45,309.41 L60.58,310.08 L60.72,310.73 L60.86,311.39 L61.00,312.04 L61.14,312.68 L61.29,313.33 L61.44,313.96 L61.59,314.60 L61.74,315.22 L61.90,315.85 L62.06,316.47 L62.22,317.08 L62.39,317.70 L62.56,318.30 L62.74,318.91 L62.91,319.51 L63.09,320.10 L63.28,320.70 L63.46,321.29 L63.66,321.87 L63.85,322.45 L64.05,323.03 L64.25,323.60 L64.46,324.17 L64.67,324.73 L64.88,325.29 L65.10,325.85 L65.32,326.41 L65.55,326.96 L65.78,327.50 L66.02,328.05 L66.26,328.59 L66.50,329.12 L66.76,329.65 L67.01,330.18 L67.27,330.71 L67.53,331.23 L67.80,331.75 L68.08,332.26 L68.36,332.77 L68.65,333.28 L68.94,333.79 L69.23,334.29 L69.54,334.79 L69.85,335.28 L70.16,335.77 L70.48,336.26 L70.81,336.75 L71.14,337.23 L71.48,337.71 L71.83,338.18 L72.18,338.65 L72.54,339.12 L72.91,339.59 L73.28,340.05 L73.66,340.51 L74.05,340.97 L74.45,341.42 L74.85,341.87 L75.26,342.32 L75.68,342.76 L76.11,343.21 L76.55,343.65 L76.99,344.08 L77.45,344.51 L77.91,344.94 L78.38,345.37 L78.86,345.80 L79.35,346.22 L79.85,346.64 L80.36,347.05 L80.87,347.47 L81.40,347.88 L81.94,348.29 L82.49,348.69 L83.05,349.09 L83.62,349.49 L84.20,349.89 L84.80,350.28 L85.40,350.68 L86.02,351.07 L86.64,351.45 L87.28,351.84 L87.94,352.22 L88.60,352.60 L89.28,352.97 L89.97,353.35 L90.68,353.72 L91.39,354.09 L92.13,354.46 L92.87,354.82 L93.63,355.18 L94.41,355.54 L95.20,355.90 L96.01,356.25 L96.83,356.61 L97.66,356.96 L98.52,357.30 L99.39,357.65 L100.28,357.99 L101.18,358.33 L103.08,359.02 L104.99,359.68 L106.89,360.30 L108.79,360.89 L110.70,361.46 L112.60,362.00 L114.50,362.52 L116.41,363.02 L118.31,363.50 L120.21,363.96 L122.12,364.40 L124.02,364.82 L125.92,365.23 L127.82,365.63 L129.73,366.01 L131.63,366.38 L133.53,366.74 L135.44,367.09 L137.34,367.42 L139.24,367.75 L141.15,368.06 L143.05,368.37 L144.95,368.67 L146.86,368.96 L148.76,369.24 L150.66,369.52 L152.57,369.78 L154.47,370.05 L156.37,370.30 L158.28,370.55 L160.18,370.79 L162.08,371.03 L163.99,371.26 L165.89,371.48 L167.79,371.70 L169.70,371.92 L171.60,372.13 L173.50,372.33 L175.40,372.54 L177.31,372.73 L179.21,372.93 L181.11,373.12 L183.02,373.30 L184.92,373.49 L186.82,373.66 L188.73,373.84 L190.63,374.01 L192.53,374.18 L194.44,374.35 L196.34,374.51 L198.24,374.67 L200.15,374.83 L202.05,374.98 L203.95,375.13 L205.86,375.28 L207.76,375.43 L209.66,375.57 L211.57,375.71 L213.47,375.85 L215.37,375.99 L217.28,376.13 L219.18,376.26 L221.08,376.39 L222.98,376.52 L224.89,376.65 L226.79,376.77 L228.69,376.89 L230.60,377.02 L232.50,377.14 L234.40,377.25 L236.31,377.37 L238.21,377.49 L240.11,377.60 L242.02,377.71 L243.92,377.82 L245.82,377.93 L247.73,378.04 L249.63,378.14 L251.53,378.25 L253.44,378.35 L255.34,378.45 L257.24,378.55 L259.15,378.65 L261.05,378.75 L262.95,378.85 L264.86,378.94 L266.76,379.04 L268.66,379.13 L270.56,379.22 L272.47,379.31 L274.37,379.40 L276.27,379.49 L278.18,379.58 L280.08,379.67 L281.98,379.76 L283.89,379.84 L285.79,379.92 L287.69,380.01 L289.60,380.09 L291.50,380.17 L293.40,380.25 L295.31,380.33 L297.21,380.41 L299.11,380.49 L301.02,380.57 L302.92,380.64 L304.82,380.72 L306.73,380.79 L308.63,380.87 L310.53,380.94 L312.44,381.01 L314.34,381.09 L316.24,381.16 L318.14,381.23 L320.05,381.30 L321.95,381.37 L323.85,381.44 L325.76,381.50 L327.66,381.57 L329.56,381.64 L331.47,381.70 L333.37,381.77 L335.27,381.83 L337.18,381.90 L339.08,381.96 L340.98,382.03 L342.89,382.09 L344.79,382.15 L346.69,382.21 L348.60,382.27 L350.50,382.33 L352.40,382.39 L354.31,382.45 L356.21,382.51 L358.11,382.57 L360.02,382.63 L361.92,382.68 L363.82,382.74 L365.72,382.80 L367.63,382.85 L369.53,382.91 L371.43,382.96 L373.34,383.02 L375.24,383.07 L377.14,383.13 L379.05,383.18 L380.95,383.23 L382.85,383.29 L384.76,383.34 L386.66,383.39 L388.56,383.44 L390.47,383.49 L392.37,383.54 L394.27,383.59 L396.18,383.64 L398.08,383.69 L399.98,383.74 L401.89,383.79 L403.79,383.84 L405.69,383.89 L407.60,383.93 L409.50,383.98 L411.40,384.03 L413.30,384.07 L415.21,384.12 L417.11,384.17 L419.01,384.21 L420.92,384.26 L422.82,384.30 L424.72,384.35 L426.63,384.39 L428.53,384.44 L430.43,384.48 L432.34,384.52 L434.24,384.57 L436.14,384.61 L438.05,384.65 L439.95,384.69 L441.85,384.74 L443.76,384.78 L445.66,384.82 L447.56,384.86 L449.47,384.90 L451.37,384.94 L453.27,384.98 L455.18,385.02 L457.08,385.06 L458.98,385.10 L460.88,385.14 L462.79,385.18 L464.69,385.22 L466.59,385.26 L468.50,385.30 L470.40,385.34 L472.30,385.37 L474.21,385.41 L476.11,385.45 L478.01,385.49 L479.92,385.52 L481.82,385.56 L483.72,385.60 L485.63,385.63 L487.53,385.67 L489.43,385.71 L491.34,385.74 L493.24,385.78 L495.14,385.81 L497.05,385.85 L498.95,385.88 L500.85,385.92 L502.76,385.95 L504.66,385.99 L506.56,386.02 L508.46,386.05 L510.37,386.09 L512.27,386.12 L514.17,386.15 L516.08,386.19 L517.98,386.22 L519.88,386.25 L521.79,386.29 L523.69,386.32 L525.59,386.35 L527.50,386.38 L529.40,386.42" stroke="#3232a8" stroke-width="1.7" stroke-dasharray="6.3 6.5" stroke-dashoffset="-1.1"/>
<path d="M58.36,330.45 L58.45,331.17 L58.54,331.88 L58.64,332.59 L58.74,333.29 L58.84,333.99 L58.94,334.67 L59.04,335.35 L59.15,336.03 L59.25,336.70 L59.36,337.36 L59.48,338.02 L59.59,338.67 L59.71,339.31 L59.82,339.95 L59.94,340.59 L60.07,341.21 L60.19,341.83 L60.32,342.45 L60.45,343.06 L60.58,343.67 L60.72,344.26 L60.86,344.86 L61.00,345.45 L61.14,346.03 L61.29,346.61 L61.44,347.18 L61.59,347.75 L61.74,348.31 L61.90,348.87 L62.06,349.42 L62.22,349.97 L62.39,350.51 L62.56,351.04 L62.74,351.58 L62.91,352.10 L63.09,352.63 L63.28,353.14 L63.46,353.66 L63.66,354.16 L63.85,354.67 L64.05,355.17 L64.25,355.66 L64.46,356.15 L64.67,356.64 L64.88,357.12 L65.10,357.59 L65.32,358.07 L65.55,358.53 L65.78,359.00 L66.02,359.46 L66.26,359.91 L66.50,360.36 L66.76,360.81 L67.01,361.25 L67.27,361.69 L67.53,362.13 L67.80,362.56 L68.08,362.99 L68.36,363.41 L68.65,363.83 L68.94,364.24 L69.23,364.66 L69.54,365.06 L69.85,365.47 L70.16,365.87 L70.48,366.27 L70.81,366.66 L71.14,367.05 L71.48,367.43 L71.83,367.82 L72.18,368.20 L72.54,368.57 L72.91,368.94 L73.28,369.31 L73.66,369.68 L74.05,370.04 L74.45,370.40 L74.85,370.75 L75.26,371.11 L75.68,371.46 L76.11,371.80 L76.55,372.14 L76.99,372.48 L77.45,372.82 L77.91,373.15 L78.38,373.48 L78.86,373.81 L79.35,374.14 L79.85,374.46 L80.36,374.78 L80.87,375.09 L81.40,375.41 L81.94,375.72 L82.49,376.02 L83.05,376.33 L83.62,376.63 L84.20,376.93 L84.80,377.22 L85.40,377.52 L86.02,377.81 L86.64,378.09 L87.28,378.38 L87.94,378.66 L88.60,378.94 L89.28,379.22 L89.97,379.50 L90.68,379.77 L91.39,380.04 L92.13,380.31 L92.87,380.57 L93.63,380.83 L94.41,381.10 L95.20,381.35 L96.01,381.61 L96.83,381.86 L97.66,382.11 L98.52,382.36 L99.39,382.61 L100.28,382.85 L101.18,383.09 L103.08,383.58 L104.99,384.04 L106.89,384.48 L108.79,384.89 L110.70,385.29 L112.60,385.66 L114.50,386.02 L116.41,386.36 L118.31,386.69 L120.21,387.00 L122.12,387.30 L124.02,387.58 L125.92,387.86 L127.82,388.13 L129.73,388.38 L131.63,388.63 L133.53,388.86 L135.44,389.09 L137.34,389.32 L139.24,389.53 L141.15,389.74 L143.05,389.94 L144.95,390.13 L146.86,390.32 L148.76,390.50 L150.66,390.68 L152.57,390.85 L154.47,391.02 L156.37,391.19 L158.28,391.34 L160.18,391.50 L162.08,391.65 L163.99,391.80 L165.89,391.94 L167.79,392.08 L169.70,392.22 L171.60,392.35 L173.50,392.48 L175.40,392.60 L177.31,392.73 L179.21,392.85 L181.11,392.97 L183.02,393.08 L184.92,393.20 L186.82,393.31 L188.73,393.42 L190.63,393.52 L192.53,393.63 L194.44,393.73 L196.34,393.83 L198.24,393.93 L200.15,394.02 L202.05,394.12 L203.95,394.21 L205.86,394.30 L207.76,394.39 L209.66,394.48 L211.57,394.56 L213.47,394.65 L215.37,394.73 L217.28,394.81 L219.18,394.89 L221.08,394.97 L222.98,395.05 L224.89,395.13 L226.79,395.20 L228.69,395.28 L230.60,395.35 L232.50,395.42 L234.40,395.49 L236.31,395.56 L238.21,395.63 L240.11,395.70 L242.02,395.76 L243.92,395.83 L245.82,395.89 L247.73,395.95 L249.63,396.02 L251.53,396.08 L253.44,396.14 L255.34,396.20 L257.24,396.26 L259.15,396.32 L261.05,396.37 L262.95,396.43 L264.86,396.49 L266.76,396.54 L268.66,396.60 L270.56,396.65 L272.47,396.70 L274.37,396.76 L276.27,396.81 L278.18,396.86 L280.08,396.91 L281.98,396.96 L283.89,397.01 L285.79,397.06 L287.69,397.10 L289.60,397.15 L291.50,397.20 L293.40,397.24 L295.31,397.29 L297.21,397.34 L299.11,397.38 L301.02,397.42 L302.92,397.47 L304.82,397.51 L306.73,397.55 L308.63,397.60 L310.53,397.64 L312.44,397.68 L314.34,397.72 L316.24,397.76 L318.14,397.80 L320.05,397.84 L321.95,397.88 L323.85,397.92 L325.76,397.96 L327.66,398.00 L329.56,398.03 L331.47,398.07 L333.37,398.11 L335.27,398.14 L337.18,398.18 L339.08,398.22 L340.98,398.25 L342.89,398.29 L344.79,398.32 L346.69,398.35 L348.60,398.39 L350.50,398.42 L352.40,398.46 L354.31,398.49 L356.21,398.52 L358.11,398.55 L360.02,398.59 L361.92,398.62 L363.82,398.65 L365.72,398.68 L367.63,398.71 L369.53,398.74 L371.43,398.77 L373.34,398.80 L375.24,398.83 L377.14,398.86 L379.05,398.89 L380.95,398.92 L382.85,398.95 L384.76,398.98 L386.66,399.01 L388.56,399.04 L390.47,399.06 L392.37,399.09 L394.27,399.12 L396.18,399.15 L398.08,399.17 L399.98,399.20 L401.89,399.23 L403.79,399.25 L405.69,399.28 L407.60,399.31 L409.50,399.33 L411.40,399.36 L413.30,399.38 L415.21,399.41 L417.11,399.43 L419.01,399.46 L420.92,399.48 L422.82,399.51 L424.72,399.53 L426.63,399.56 L428.53,399.58 L430.43,399.60 L432.34,399.63 L434.24,399.65 L436.14,399.67 L438.05,399.70 L439.95,399.72 L441.85,399.74 L443.76,399.76 L445.66,399.79 L447.56,399.81 L449.47,399.83 L451.37,399.85 L453.27,399.87 L455.18,399.90 L457.08,399.92 L458.98,399.94 L460.88,399.96 L462.79,399.98 L464.69,400.00 L466.59,400.02 L468.50,400.04 L470.40,400.06 L472.30,400.08 L474.21,400.10 L476.11,400.12 L478.01,400.14 L479.92,400.16 L481.82,400.18 L483.72,400.20 L485.63,400.22 L487.53,400.24 L489.43,400.26 L491.34,400.28 L493.24,400.30 L495.14,400.32 L497.05,400.34 L498.95,400.35 L500.85,400.37 L502.76,400.39 L504.66,400.41 L506.56,400.43 L508.46,400.44 L510.37,400.46 L512.27,400.48 L514.17,400.50 L516.08,400.52 L517.98,400.53 L519.88,400.55 L521.79,400.57 L523.69,400.58 L525.59,400.60 L527.50,400.62 L529.40,400.64" stroke="#6e3080" stroke-width="1.7" stroke-dasharray="6.3 6.5" stroke-dashoffset="-0.4"/>
<path d="M58.36,358.77 L58.45,359.27 L58.54,359.76 L58.64,360.25 L58.74,360.73 L58.84,361.21 L58.94,361.69 L59.04,362.15 L59.15,362.62 L59.25,363.08 L59.36,363.53 L59.48,363.99 L59.59,364.43 L59.71,364.87 L59.82,365.31 L59.94,365.74 L60.07,366.17 L60.19,366.60 L60.32,367.02 L60.45,367.44 L60.58,367.85 L60.72,368.26 L60.86,368.66 L61.00,369.06 L61.14,369.46 L61.29,369.85 L61.44,370.24 L61.59,370.62 L61.74,371.01 L61.90,371.38 L62.06,371.76 L62.22,372.13 L62.39,372.49 L62.56,372.86 L62.74,373.22 L62.91,373.57 L63.09,373.92 L63.28,374.27 L63.46,374.62 L63.66,374.96 L63.85,375.30 L64.05,375.63 L64.25,375.96 L64.46,376.29 L64.67,376.62 L64.88,376.94 L65.10,377.26 L65.32,377.58 L65.55,377.89 L65.78,378.20 L66.02,378.51 L66.26,378.81 L66.50,379.11 L66.76,379.41 L67.01,379.70 L67.27,379.99 L67.53,380.28 L67.80,380.57 L68.08,380.85 L68.36,381.13 L68.65,381.41 L68.94,381.69 L69.23,381.96 L69.54,382.23 L69.85,382.50 L70.16,382.76 L70.48,383.02 L70.81,383.28 L71.14,383.54 L71.48,383.79 L71.83,384.04 L72.18,384.29 L72.54,384.54 L72.91,384.78 L73.28,385.03 L73.66,385.27 L74.05,385.50 L74.45,385.74 L74.85,385.97 L75.26,386.20 L75.68,386.43 L76.11,386.65 L76.55,386.88 L76.99,387.10 L77.45,387.32 L77.91,387.54 L78.38,387.75 L78.86,387.96 L79.35,388.17 L79.85,388.38 L80.36,388.59 L80.87,388.79 L81.40,389.00 L81.94,389.20 L82.49,389.40 L83.05,389.59 L83.62,389.79 L84.20,389.98 L84.80,390.17 L85.40,390.36 L86.02,390.55 L86.64,390.73 L87.28,390.92 L87.94,391.10 L88.60,391.28 L89.28,391.46 L89.97,391.63 L90.68,391.81 L91.39,391.98 L92.13,392.15 L92.87,392.32 L93.63,392.49 L94.41,392.65 L95.20,392.82 L96.01,392.98 L96.83,393.14 L97.66,393.30 L98.52,393.46 L99.39,393.62 L100.28,393.77 L101.18,393.93 L103.08,394.24 L104.99,394.53 L106.89,394.80 L108.79,395.06 L110.70,395.31 L112.60,395.55 L114.50,395.77 L116.41,395.99 L118.31,396.19 L120.21,396.39 L122.12,396.57 L124.02,396.75 L125.92,396.93 L127.82,397.09 L129.73,397.25 L131.63,397.41 L133.53,397.55 L135.44,397.70 L137.34,397.83 L139.24,397.97 L141.15,398.10 L143.05,398.22 L144.95,398.34 L146.86,398.46 L148.76,398.57 L150.66,398.68 L152.57,398.79 L154.47,398.89 L156.37,398.99 L158.28,399.09 L160.18,399.18 L162.08,399.28 L163.99,399.37 L165.89,399.45 L167.79,399.54 L169.70,399.62 L171.60,399.71 L173.50,399.79 L175.40,399.86 L177.31,399.94 L179.21,400.01 L181.11,400.09 L183.02,400.16 L184.92,400.23 L186.82,400.29 L188.73,400.36 L190.63,400.42 L192.53,400.49 L194.44,400.55 L196.34,400.61 L198.24,400.67 L200.15,400.73 L202.05,400.79 L203.95,400.84 L205.86,400.90 L207.76,400.95 L209.66,401.01 L211.57,401.06 L213.47,401.11 L215.37,401.16 L217.28,401.21 L219.18,401.26 L221.08,401.30 L222.98,401.35 L224.89,401.40 L226.79,401.44 L228.69,401.49 L230.60,401.53 L232.50,401.58 L234.40,401.62 L236.31,401.66 L238.21,401.70 L240.11,401.74 L242.02,401.78 L243.92,401.82 L245.82,401.86 L247.73,401.90 L249.63,401.93 L251.53,401.97 L253.44,402.01 L255.34,402.04 L257.24,402.08 L259.15,402.11 L261.05,402.15 L262.95,402.18 L264.86,402.22 L266.76,402.25 L268.66,402.28 L270.56,402.31 L272.47,402.35 L274.37,402.38 L276.27,402.41 L278.18,402.44 L280.08,402.47 L281.98,402.50 L283.89,402.53 L285.79,402.56 L287.69,402.59 L289.60,402.61 L291.50,402.64 L293.40,402.67 L295.31,402.70 L297.21,402.72 L299.11,402.75 L301.02,402.78 L302.92,402.80 L304.82,402.83 L306.73,402.86 L308.63,402.88 L310.53,402.91 L312.44,402.93 L314.34,402.95 L316.24,402.98 L318.14,403.00 L320.05,403.03 L321.95,403.05 L323.85,403.07 L325.76,403.10 L327.66,403.12 L329.56,403.14 L331.47,403.16 L333.37,403.18 L335.27,403.21 L337.18,403.23 L339.08,403.25 L340.98,403.27 L342.89,403.29 L344.79,403.31 L346.69,403.33 L348.60,403.35 L350.50,403.37 L352.40,403.39 L354.31,403.41 L356.21,403.43 L358.11,403.45 L360.02,403.47 L361.92,403.49 L363.82,403.51 L365.72,403.52 L367.63,403.54 L369.53,403.56 L371.43,403.58 L373.34,403.60 L375.24,403.61 L377.14,403.63 L379.05,403.65 L380.95,403.67 L382.85,403.68 L384.76,403.70 L386.66,403.72 L388.56,403.73 L390.47,403.75 L392.37,403.77 L394.27,403.78 L396.18,403.80 L398.08,403.82 L399.98,403.83 L401.89,403.85 L403.79,403.86 L405.69,403.88 L407.60,403.89 L409.50,403.91 L411.40,403.92 L413.30,403.94 L415.21,403.95 L417.11,403.97 L419.01,403.98 L420.92,404.00 L422.82,404.01 L424.72,404.03 L426.63,404.04 L428.53,404.05 L430.43,404.07 L432.34,404.08 L434.24,404.10 L436.14,404.11 L438.05,404.12 L439.95,404.14 L441.85,404.15 L443.76,404.16 L445.66,404.18 L447.56,404.19 L449.47,404.20 L451.37,404.21 L453.27,404.23 L455.18,404.24 L457.08,404.25 L458.98,404.26 L460.88,404.28 L462.79,404.29 L464.69,404.30 L466.59,404.31 L468.50,404.33 L470.40,404.34 L472.30,404.35 L474.21,404.36 L476.11,404.37 L478.01,404.38 L479.92,404.40 L481.82,404.41 L483.72,404.42 L485.63,404.43 L487.53,404.44 L489.43,404.45 L491.34,404.46 L493.24,404.47 L495.14,404.49 L497.05,404.50 L498.95,404.51 L500.85,404.52 L502.76,404.53 L504.66,404.54 L506.56,404.55 L508.46,404.56 L510.37,404.57 L512.27,404.58 L514.17,404.59 L516.08,404.60 L517.98,404.61 L519.88,404.62 L521.79,404.63 L523.69,404.64 L525.59,404.65 L527.50,404.66 L529.40,404.67" stroke="#c03848" stroke-width="1.7" stroke-dasharray="6.3 6.5" stroke-dashoffset="0"/>
<path d="M58.36,384.52 L58.45,384.83 L58.54,385.15 L58.64,385.46 L58.74,385.76 L58.84,386.07 L58.94,386.37 L59.04,386.66 L59.15,386.95 L59.25,387.24 L59.36,387.52 L59.48,387.80 L59.59,388.08 L59.71,388.35 L59.82,388.62 L59.94,388.89 L60.07,389.15 L60.19,389.41 L60.32,389.66 L60.45,389.91 L60.58,390.16 L60.72,390.41 L60.86,390.65 L61.00,390.89 L61.14,391.13 L61.29,391.36 L61.44,391.59 L61.59,391.82 L61.74,392.05 L61.90,392.27 L62.06,392.49 L62.22,392.70 L62.39,392.92 L62.56,393.13 L62.74,393.34 L62.91,393.54 L63.09,393.74 L63.28,393.94 L63.46,394.14 L63.66,394.34 L63.85,394.53 L64.05,394.72 L64.25,394.91 L64.46,395.09 L64.67,395.28 L64.88,395.46 L65.10,395.64 L65.32,395.81 L65.55,395.99 L65.78,396.16 L66.02,396.33 L66.26,396.49 L66.50,396.66 L66.76,396.82 L67.01,396.98 L67.27,397.14 L67.53,397.30 L67.80,397.45 L68.08,397.61 L68.36,397.76 L68.65,397.91 L68.94,398.05 L69.23,398.20 L69.54,398.34 L69.85,398.48 L70.16,398.62 L70.48,398.76 L70.81,398.90 L71.14,399.03 L71.48,399.16 L71.83,399.29 L72.18,399.42 L72.54,399.55 L72.91,399.68 L73.28,399.80 L73.66,399.92 L74.05,400.05 L74.45,400.16 L74.85,400.28 L75.26,400.40 L75.68,400.51 L76.11,400.63 L76.55,400.74 L76.99,400.85 L77.45,400.96 L77.91,401.07 L78.38,401.18 L78.86,401.28 L79.35,401.38 L79.85,401.49 L80.36,401.59 L80.87,401.69 L81.40,401.79 L81.94,401.88 L82.49,401.98 L83.05,402.08 L83.62,402.17 L84.20,402.26 L84.80,402.35 L85.40,402.44 L86.02,402.53 L86.64,402.62 L87.28,402.71 L87.94,402.79 L88.60,402.88 L89.28,402.96 L89.97,403.04 L90.68,403.12 L91.39,403.20 L92.13,403.28 L92.87,403.36 L93.63,403.44 L94.41,403.51 L95.20,403.59 L96.01,403.66 L96.83,403.74 L97.66,403.81 L98.52,403.88 L99.39,403.95 L100.28,404.02 L101.18,404.09 L103.08,404.23 L104.99,404.36 L106.89,404.48 L108.79,404.59 L110.70,404.70 L112.60,404.80 L114.50,404.90 L116.41,404.99 L118.31,405.08 L120.21,405.16 L122.12,405.24 L124.02,405.32 L125.92,405.39 L127.82,405.46 L129.73,405.53 L131.63,405.59 L133.53,405.65 L135.44,405.71 L137.34,405.77 L139.24,405.82 L141.15,405.87 L143.05,405.92 L144.95,405.97 L146.86,406.02 L148.76,406.07 L150.66,406.11 L152.57,406.15 L154.47,406.19 L156.37,406.23 L158.28,406.27 L160.18,406.31 L162.08,406.35 L163.99,406.38 L165.89,406.42 L167.79,406.45 L169.70,406.48 L171.60,406.51 L173.50,406.54 L175.40,406.57 L177.31,406.60 L179.21,406.63 L181.11,406.66 L183.02,406.69 L184.92,406.71 L186.82,406.74 L188.73,406.76 L190.63,406.79 L192.53,406.81 L194.44,406.84 L196.34,406.86 L198.24,406.88 L200.15,406.90 L202.05,406.93 L203.95,406.95 L205.86,406.97 L207.76,406.99 L209.66,407.01 L211.57,407.03 L213.47,407.05 L215.37,407.06 L217.28,407.08 L219.18,407.10 L221.08,407.12 L222.98,407.14 L224.89,407.15 L226.79,407.17 L228.69,407.18 L230.60,407.20 L232.50,407.22 L234.40,407.23 L236.31,407.25 L238.21,407.26 L240.11,407.28 L242.02,407.29 L243.92,407.31 L245.82,407.32 L247.73,407.33 L249.63,407.35 L251.53,407.36 L253.44,407.37 L255.34,407.39 L257.24,407.40 L259.15,407.41 L261.05,407.42 L262.95,407.44 L264.86,407.45 L266.76,407.46 L268.66,407.47 L270.56,407.48 L272.47,407.49 L274.37,407.50 L276.27,407.51 L278.18,407.53 L280.08,407.54 L281.98,407.55 L283.89,407.56 L285.79,407.57 L287.69,407.58 L289.60,407.59 L291.50,407.60 L293.40,407.61 L295.31,407.62 L297.21,407.63 L299.11,407.63 L301.02,407.64 L302.92,407.65 L304.82,407.66 L306.73,407.67 L308.63,407.68 L310.53,407.69 L312.44,407.70 L314.34,407.70 L316.24,407.71 L318.14,407.72 L320.05,407.73 L321.95,407.74 L323.85,407.74 L325.76,407.75 L327.66,407.76 L329.56,407.77 L331.47,407.78 L333.37,407.78 L335.27,407.79 L337.18,407.80 L339.08,407.80 L340.98,407.81 L342.89,407.82 L344.79,407.83 L346.69,407.83 L348.60,407.84 L350.50,407.85 L352.40,407.85 L354.31,407.86 L356.21,407.87 L358.11,407.87 L360.02,407.88 L361.92,407.88 L363.82,407.89 L365.72,407.90 L367.63,407.90 L369.53,407.91 L371.43,407.92 L373.34,407.92 L375.24,407.93 L377.14,407.93 L379.05,407.94 L380.95,407.94 L382.85,407.95 L384.76,407.96 L386.66,407.96 L388.56,407.97 L390.47,407.97 L392.37,407.98 L394.27,407.98 L396.18,407.99 L398.08,407.99 L399.98,408.00 L401.89,408.00 L403.79,408.01 L405.69,408.01 L407.60,408.02 L409.50,408.02 L411.40,408.03 L413.30,408.03 L415.21,408.04 L417.11,408.04 L419.01,408.05 L420.92,408.05 L422.82,408.06 L424.72,408.06 L426.63,408.07 L428.53,408.07 L430.43,408.08 L432.34,408.08 L434.24,408.08 L436.14,408.09 L438.05,408.09 L439.95,408.10 L441.85,408.10 L443.76,408.11 L445.66,408.11 L447.56,408.11 L449.47,408.12 L451.37,408.12 L453.27,408.13 L455.18,408.13 L457.08,408.13 L458.98,408.14 L460.88,408.14 L462.79,408.15 L464.69,408.15 L466.59,408.15 L468.50,408.16 L470.40,408.16 L472.30,408.17 L474.21,408.17 L476.11,408.17 L478.01,408.18 L479.92,408.18 L481.82,408.18 L483.72,408.19 L485.63,408.19 L487.53,408.20 L489.43,408.20 L491.34,408.20 L493.24,408.21 L495.14,408.21 L497.05,408.21 L498.95,408.22 L500.85,408.22 L502.76,408.22 L504.66,408.23 L506.56,408.23 L508.46,408.23 L510.37,408.24 L512.27,408.24 L514.17,408.24 L516.08,408.25 L517.98,408.25 L519.88,408.25 L521.79,408.25 L523.69,408.26 L525.59,408.26 L527.50,408.26 L529.40,408.27" stroke="#c84cc8" stroke-width="1.7" stroke-dasharray="6.3 6.5" stroke-dashoffset="-0.4"/>
</g>
<g stroke="#333" fill="none">
<path d="M53.6,11.0 L529.4,11.0 L529.4,409.4" stroke="#555" stroke-width="1.6"/>
<path d="M53.6,10.2 L53.6,409.4 L530.1999999999999,409.4" stroke-width="1.7"/>
<line x1="48.4" y1="409.40" x2="53.6" y2="409.40" stroke-width="1.6"/>
<line x1="51.0" y1="394.08" x2="53.6" y2="394.08" stroke-width="1.4"/>
<line x1="48.4" y1="378.75" x2="53.6" y2="378.75" stroke-width="1.6"/>
<line x1="51.0" y1="363.43" x2="53.6" y2="363.43" stroke-width="1.4"/>
<line x1="48.4" y1="348.11" x2="53.6" y2="348.11" stroke-width="1.6"/>
<line x1="51.0" y1="332.78" x2="53.6" y2="332.78" stroke-width="1.4"/>
<line x1="48.4" y1="317.46" x2="53.6" y2="317.46" stroke-width="1.6"/>
<line x1="51.0" y1="302.14" x2="53.6" y2="302.14" stroke-width="1.4"/>
<line x1="48.4" y1="286.82" x2="53.6" y2="286.82" stroke-width="1.6"/>
<line x1="51.0" y1="271.49" x2="53.6" y2="271.49" stroke-width="1.4"/>
<line x1="48.4" y1="256.17" x2="53.6" y2="256.17" stroke-width="1.6"/>
<line x1="51.0" y1="240.85" x2="53.6" y2="240.85" stroke-width="1.4"/>
<line x1="48.4" y1="225.52" x2="53.6" y2="225.52" stroke-width="1.6"/>
<line x1="51.0" y1="210.20" x2="53.6" y2="210.20" stroke-width="1.4"/>
<line x1="48.4" y1="194.88" x2="53.6" y2="194.88" stroke-width="1.6"/>
<line x1="51.0" y1="179.55" x2="53.6" y2="179.55" stroke-width="1.4"/>
<line x1="48.4" y1="164.23" x2="53.6" y2="164.23" stroke-width="1.6"/>
<line x1="51.0" y1="148.91" x2="53.6" y2="148.91" stroke-width="1.4"/>
<line x1="48.4" y1="133.58" x2="53.6" y2="133.58" stroke-width="1.6"/>
<line x1="51.0" y1="118.26" x2="53.6" y2="118.26" stroke-width="1.4"/>
<line x1="48.4" y1="102.94" x2="53.6" y2="102.94" stroke-width="1.6"/>
<line x1="51.0" y1="87.62" x2="53.6" y2="87.62" stroke-width="1.4"/>
<line x1="48.4" y1="72.29" x2="53.6" y2="72.29" stroke-width="1.6"/>
<line x1="51.0" y1="56.97" x2="53.6" y2="56.97" stroke-width="1.4"/>
<line x1="48.4" y1="41.65" x2="53.6" y2="41.65" stroke-width="1.6"/>
<line x1="51.0" y1="26.32" x2="53.6" y2="26.32" stroke-width="1.4"/>
<line x1="48.4" y1="11.00" x2="53.6" y2="11.00" stroke-width="1.6"/>
<line x1="53.60" y1="409.4" x2="53.60" y2="414.59999999999997" stroke-width="1.6"/>
<line x1="77.39" y1="409.4" x2="77.39" y2="412.0" stroke-width="1.4"/>
<line x1="101.18" y1="409.4" x2="101.18" y2="414.59999999999997" stroke-width="1.6"/>
<line x1="124.97" y1="409.4" x2="124.97" y2="412.0" stroke-width="1.4"/>
<line x1="148.76" y1="409.4" x2="148.76" y2="414.59999999999997" stroke-width="1.6"/>
<line x1="172.55" y1="409.4" x2="172.55" y2="412.0" stroke-width="1.4"/>
<line x1="196.34" y1="409.4" x2="196.34" y2="414.59999999999997" stroke-width="1.6"/>
<line x1="220.13" y1="409.4" x2="220.13" y2="412.0" stroke-width="1.4"/>
<line x1="243.92" y1="409.4" x2="243.92" y2="414.59999999999997" stroke-width="1.6"/>
<line x1="267.71" y1="409.4" x2="267.71" y2="412.0" stroke-width="1.4"/>
<line x1="291.50" y1="409.4" x2="291.50" y2="414.59999999999997" stroke-width="1.6"/>
<line x1="315.29" y1="409.4" x2="315.29" y2="412.0" stroke-width="1.4"/>
<line x1="339.08" y1="409.4" x2="339.08" y2="414.59999999999997" stroke-width="1.6"/>
<line x1="362.87" y1="409.4" x2="362.87" y2="412.0" stroke-width="1.4"/>
<line x1="386.66" y1="409.4" x2="386.66" y2="414.59999999999997" stroke-width="1.6"/>
<line x1="410.45" y1="409.4" x2="410.45" y2="412.0" stroke-width="1.4"/>
<line x1="434.24" y1="409.4" x2="434.24" y2="414.59999999999997" stroke-width="1.6"/>
<line x1="458.03" y1="409.4" x2="458.03" y2="412.0" stroke-width="1.4"/>
<line x1="481.82" y1="409.4" x2="481.82" y2="414.59999999999997" stroke-width="1.6"/>
<line x1="505.61" y1="409.4" x2="505.61" y2="412.0" stroke-width="1.4"/>
<line x1="529.40" y1="409.4" x2="529.40" y2="414.59999999999997" stroke-width="1.6"/>
</g>
<g font-size="12">
<text x="44.4" y="412.70" text-anchor="end">0.00</text>
<text x="44.4" y="382.05" text-anchor="end">0.05</text>
<text x="44.4" y="351.41" text-anchor="end">0.10</text>
<text x="44.4" y="320.76" text-anchor="end">0.15</text>
<text x="44.4" y="290.12" text-anchor="end">0.20</text>
<text x="44.4" y="259.47" text-anchor="end">0.25</text>
<text x="44.4" y="228.82" text-anchor="end">0.30</text>
<text x="44.4" y="198.18" text-anchor="end">0.35</text>
<text x="44.4" y="167.53" text-anchor="end">0.40</text>
<text x="44.4" y="136.88" text-anchor="end">0.45</text>
<text x="44.4" y="106.24" text-anchor="end">0.50</text>
<text x="44.4" y="75.59" text-anchor="end">0.55</text>
<text x="44.4" y="44.95" text-anchor="end">0.60</text>
<text x="44.4" y="14.30" text-anchor="end">0.65</text>
<text x="53.60" y="428.4" text-anchor="middle">0</text>
<text x="101.18" y="428.4" text-anchor="middle">2500</text>
<text x="148.76" y="428.4" text-anchor="middle">5000</text>
<text x="196.34" y="428.4" text-anchor="middle">7500</text>
<text x="243.92" y="428.4" text-anchor="middle">10000</text>
<text x="291.50" y="428.4" text-anchor="middle">12500</text>
<text x="339.08" y="428.4" text-anchor="middle">15000</text>
<text x="386.66" y="428.4" text-anchor="middle">17500</text>
<text x="434.24" y="428.4" text-anchor="middle">20000</text>
<text x="481.82" y="428.4" text-anchor="middle">22500</text>
<text x="529.40" y="428.4" text-anchor="middle">25000</text>
</g>
<text x="225.6" y="448.5" font-size="14.8" textLength="130.4">Matrix suction (<tspan font-style="italic">h</tspan>/cm)</text>
<text transform="translate(15.3,209.9) rotate(-90)" x="-86.2" font-size="15" textLength="172.4">Volumetric water content (<tspan font-style="italic">θ</tspan>)</text>
<g font-size="12">
<line x1="139.6" y1="30.5" x2="163.9" y2="30.5" stroke="#3a3a3a" stroke-width="1.4"/>
<text x="166.4" y="34.20" textLength="86.6">Clay <tspan font-size="9.3" dy="-0.1">(</tspan><tspan font-style="italic" dy="0.1">D</tspan><tspan font-size="6" dy="2.2" stroke-width="0.2">1</tspan><tspan dy="-2.2">=</tspan>2.9209<tspan font-size="9.3" dy="-0.1">)</tspan></text>
<line x1="139.6" y1="47.6" x2="163.9" y2="47.6" stroke="#c04858" stroke-width="1.4"/>
<text x="166.4" y="51.30" textLength="110.4">Silty clay <tspan font-size="9.3" dy="-0.1">(</tspan><tspan font-style="italic" dy="0.1">D</tspan><tspan font-size="6" dy="2.2" stroke-width="0.2">1</tspan><tspan dy="-2.2">=</tspan>2.8916<tspan font-size="9.3" dy="-0.1">)</tspan></text>
<line x1="139.6" y1="64.7" x2="163.9" y2="64.7" stroke="#4a9058" stroke-width="1.4"/>
<text x="166.4" y="68.40" textLength="114.3">Clay loam <tspan font-size="9.3" dy="-0.1">(</tspan><tspan font-style="italic" dy="0.1">D</tspan><tspan font-size="6" dy="2.2" stroke-width="0.2">1</tspan><tspan dy="-2.2">=</tspan>2.8638<tspan font-size="9.3" dy="-0.1">)</tspan></text>
<line x1="139.6" y1="81.80000000000001" x2="163.9" y2="81.80000000000001" stroke="#5050b0" stroke-width="1.4"/>
<text x="166.4" y="85.50" textLength="118.1">Sandy clay <tspan font-size="9.3" dy="-0.1">(</tspan><tspan font-style="italic" dy="0.1">D</tspan><tspan font-size="6" dy="2.2" stroke-width="0.2">1</tspan><tspan dy="-2.2">=</tspan>2.8519<tspan font-size="9.3" dy="-0.1">)</tspan></text>
<line x1="139.6" y1="98.9" x2="163.9" y2="98.9" stroke="#d058d0" stroke-width="1.4"/>
<text x="166.4" y="102.60" textLength="138.6">Silty clay loam <tspan font-size="9.3" dy="-0.1">(</tspan><tspan font-style="italic" dy="0.1">D</tspan><tspan font-size="6" dy="2.2" stroke-width="0.2">1</tspan><tspan dy="-2.2">=</tspan>2.8303<tspan font-size="9.3" dy="-0.1">)</tspan></text>
<line x1="139.6" y1="116.0" x2="163.9" y2="116.0" stroke="#9060c8" stroke-width="1.4"/>
<text x="166.4" y="119.70" textLength="146.2">Sandy clay loam <tspan font-size="9.3" dy="-0.1">(</tspan><tspan font-style="italic" dy="0.1">D</tspan><tspan font-size="6" dy="2.2" stroke-width="0.2">1</tspan><tspan dy="-2.2">=</tspan>2.8028<tspan font-size="9.3" dy="-0.1">)</tspan></text>
<line x1="322.9" y1="30.5" x2="329.2" y2="30.5" stroke="#404040" stroke-width="1.6"/>
<line x1="335.7" y1="30.5" x2="342.2" y2="30.5" stroke="#404040" stroke-width="1.6"/>
<text x="350.1" y="34.20" textLength="108.3">Silt loam <tspan font-size="9.3" dy="-0.1">(</tspan><tspan font-style="italic" dy="0.1">D</tspan><tspan font-size="6" dy="2.2" stroke-width="0.2">1</tspan><tspan dy="-2.2">=</tspan>2.7513<tspan font-size="9.3" dy="-0.1">)</tspan></text>
<line x1="322.9" y1="47.6" x2="329.2" y2="47.6" stroke="#58985f" stroke-width="1.6"/>
<line x1="335.7" y1="47.6" x2="342.2" y2="47.6" stroke="#58985f" stroke-width="1.6"/>
<text x="350.1" y="51.30" textLength="92.2">Loam <tspan font-size="9.3" dy="-0.1">(</tspan><tspan font-style="italic" dy="0.1">D</tspan><tspan font-size="6" dy="2.2" stroke-width="0.2">1</tspan><tspan dy="-2.2">=</tspan>2.7235<tspan font-size="9.3" dy="-0.1">)</tspan></text>
<line x1="322.9" y1="64.7" x2="329.2" y2="64.7" stroke="#5050b8" stroke-width="1.6"/>
<line x1="335.7" y1="64.7" x2="342.2" y2="64.7" stroke="#5050b8" stroke-width="1.6"/>
<text x="350.1" y="68.40" textLength="80.6">Silt <tspan font-size="9.3" dy="-0.1">(</tspan><tspan font-style="italic" dy="0.1">D</tspan><tspan font-size="6" dy="2.2" stroke-width="0.2">1</tspan><tspan dy="-2.2">=</tspan>2.6533<tspan font-size="9.3" dy="-0.1">)</tspan></text>
<line x1="322.9" y1="81.80000000000001" x2="329.2" y2="81.80000000000001" stroke="#80508f" stroke-width="1.6"/>
<line x1="335.7" y1="81.80000000000001" x2="342.2" y2="81.80000000000001" stroke="#80508f" stroke-width="1.6"/>
<text x="350.1" y="85.50" textLength="122.1">Sandy loam <tspan font-size="9.3" dy="-0.1">(</tspan><tspan font-style="italic" dy="0.1">D</tspan><tspan font-size="6" dy="2.2" stroke-width="0.2">1</tspan><tspan dy="-2.2">=</tspan>2.5227<tspan font-size="9.3" dy="-0.1">)</tspan></text>
<line x1="322.9" y1="98.9" x2="329.2" y2="98.9" stroke="#c05050" stroke-width="1.6"/>
<line x1="335.7" y1="98.9" x2="342.2" y2="98.9" stroke="#c05050" stroke-width="1.6"/>
<text x="350.1" y="102.60" textLength="124.6">Loamy sand <tspan font-size="9.3" dy="-0.1">(</tspan><tspan font-style="italic" dy="0.1">D</tspan><tspan font-size="6" dy="2.2" stroke-width="0.2">1</tspan><tspan dy="-2.2">=</tspan>2.4852<tspan font-size="9.3" dy="-0.1">)</tspan></text>
<line x1="322.9" y1="116.0" x2="329.2" y2="116.0" stroke="#d068d0" stroke-width="1.6"/>
<line x1="335.7" y1="116.0" x2="342.2" y2="116.0" stroke="#d068d0" stroke-width="1.6"/>
<text x="350.1" y="119.70" textLength="87.7">Sand <tspan font-size="9.3" dy="-0.1">(</tspan><tspan font-style="italic" dy="0.1">D</tspan><tspan font-size="6" dy="2.2" stroke-width="0.2">1</tspan><tspan dy="-2.2">=</tspan>2.3291<tspan font-size="9.3" dy="-0.1">)</tspan></text>
</g>
</svg></body></html>
